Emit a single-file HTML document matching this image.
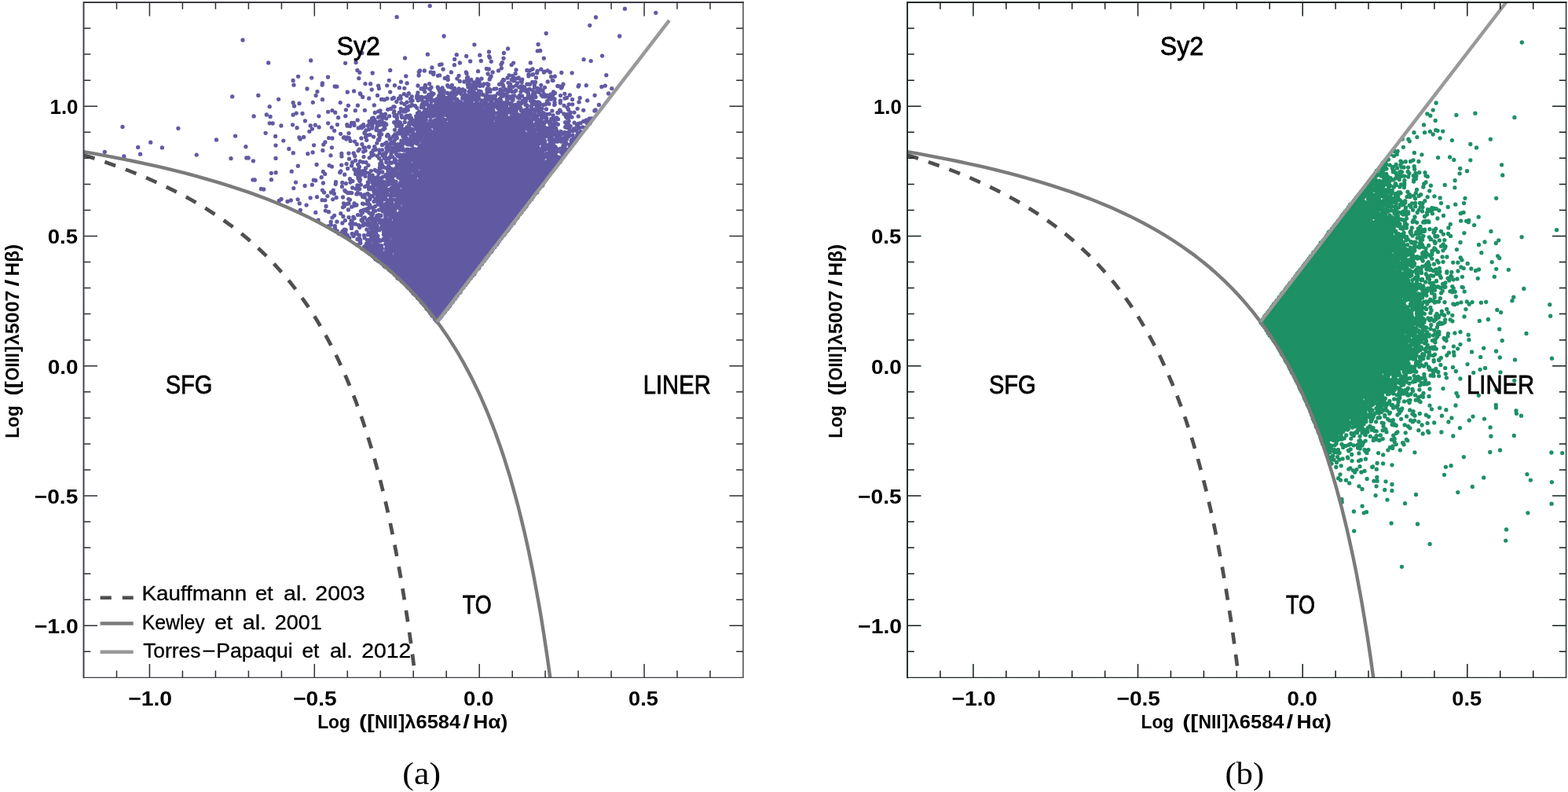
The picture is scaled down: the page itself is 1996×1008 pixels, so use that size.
<!DOCTYPE html>
<html lang="en"><head><meta charset="utf-8"><title>BPT diagnostic diagrams</title>
<style>html,body{margin:0;padding:0;background:#fff}body{width:1996px;height:1008px;overflow:hidden}svg{display:block}text{font-family:"Liberation Sans",sans-serif;fill:#000}.se{font-family:"Liberation Serif",serif}</style></head><body>
<svg width="1996" height="1008" viewBox="0 0 1996 1008">
<rect width="1996" height="1008" fill="#fff"/>
<g id="panel-a">
<clipPath id="clipa"><rect x="106.5" y="3.0" width="839.5" height="859.4"/></clipPath>
<g stroke="#615aa3" fill="none" clip-path="url(#clipa)">
<path d="M648 95.5h1M647 96.5h1M651 96.5h2M652 97.5h2M594 98.5h2M646 98.5h1M652 98.5h3M659 98.5h2M594 99.5h1M645 99.5h1M652 99.5h4M658 99.5h3M594 100.5h1M607 100.5h2M612 100.5h1M651 100.5h6M594 101.5h1M599 101.5h1M607 101.5h5M640 101.5h3M651 101.5h5M663 101.5h2M593 102.5h2M598 102.5h3M607 102.5h4M640 102.5h2M652 102.5h3M663 102.5h2M591 103.5h1M594 103.5h5M606 103.5h5M639 103.5h1M662 103.5h3M590 104.5h1M595 104.5h3M602 104.5h9M638 104.5h1M663 104.5h2M677 104.5h5M595 105.5h3M602 105.5h9M637 105.5h2M647 105.5h2M664 105.5h1M676 105.5h5M595 106.5h4M602 106.5h9M615 106.5h2M619 106.5h2M635 106.5h5M648 106.5h2M673 106.5h3M679 106.5h2M595 107.5h17M614 107.5h2M620 107.5h2M635 107.5h1M639 107.5h2M648 107.5h2M670 107.5h5M679 107.5h2M569 108.5h1M574 108.5h2M595 108.5h21M621 108.5h1M640 108.5h1M648 108.5h2M663 108.5h2M680 108.5h1M569 109.5h2M573 109.5h3M595 109.5h12M610 109.5h2M614 109.5h1M640 109.5h1M648 109.5h2M662 109.5h4M680 109.5h1M557 110.5h1M570 110.5h6M595 110.5h11M640 110.5h2M648 110.5h6M660 110.5h7M680 110.5h1M557 111.5h1M563 111.5h1M574 111.5h3M596 111.5h10M641 111.5h1M648 111.5h5M661 111.5h7M680 111.5h2M557 112.5h2M563 112.5h1M575 112.5h5M597 112.5h9M620 112.5h2M642 112.5h1M648 112.5h4M663 112.5h6M680 112.5h1M683 112.5h2M688 112.5h1M558 113.5h2M576 113.5h4M583 113.5h3M588 113.5h2M597 113.5h5M619 113.5h5M637 113.5h1M642 113.5h3M648 113.5h3M663 113.5h8M673 113.5h2M684 113.5h5M558 114.5h2M564 114.5h1M577 114.5h14M597 114.5h5M620 114.5h5M636 114.5h3M641 114.5h10M663 114.5h10M677 114.5h2M684 114.5h6M559 115.5h2M564 115.5h2M577 115.5h11M590 115.5h2M597 115.5h5M609 115.5h2M620 115.5h5M636 115.5h2M640 115.5h2M645 115.5h7M655 115.5h2M663 115.5h2M667 115.5h5M677 115.5h2M683 115.5h9M560 116.5h5M576 116.5h11M591 116.5h1M596 116.5h7M609 116.5h4M620 116.5h5M636 116.5h1M646 116.5h2M651 116.5h5M662 116.5h2M669 116.5h3M678 116.5h2M682 116.5h6M691 116.5h1M531 117.5h1M560 117.5h5M574 117.5h13M596 117.5h9M609 117.5h4M620 117.5h2M635 117.5h2M646 117.5h1M652 117.5h1M662 117.5h1M670 117.5h2M678 117.5h5M685 117.5h2M704 117.5h2M531 118.5h1M548 118.5h4M560 118.5h5M569 118.5h2M573 118.5h9M585 118.5h2M597 118.5h9M608 118.5h5M620 118.5h1M633 118.5h5M645 118.5h1M671 118.5h2M678 118.5h4M703 118.5h4M531 119.5h1M547 119.5h6M560 119.5h5M571 119.5h11M586 119.5h2M599 119.5h15M634 119.5h5M644 119.5h2M672 119.5h1M678 119.5h3M691 119.5h2M701 119.5h5M531 120.5h1M545 120.5h7M560 120.5h5M572 120.5h9M587 120.5h1M591 120.5h3M600 120.5h11M614 120.5h2M636 120.5h10M672 120.5h1M678 120.5h3M689 120.5h6M700 120.5h5M530 121.5h2M545 121.5h6M559 121.5h6M572 121.5h8M588 121.5h8M600 121.5h11M615 121.5h2M619 121.5h2M637 121.5h4M643 121.5h3M652 121.5h3M661 121.5h1M672 121.5h1M677 121.5h5M689 121.5h15M530 122.5h4M544 122.5h6M558 122.5h7M571 122.5h9M588 122.5h9M599 122.5h11M617 122.5h14M638 122.5h2M644 122.5h11M660 122.5h6M672 122.5h10M690 122.5h13M530 123.5h8M540 123.5h9M558 123.5h8M570 123.5h10M588 123.5h21M618 123.5h13M644 123.5h10M658 123.5h5M671 123.5h11M697 123.5h6M530 124.5h9M541 124.5h8M557 124.5h23M588 124.5h21M618 124.5h13M645 124.5h9M659 124.5h3M670 124.5h10M698 124.5h6M530 125.5h8M542 125.5h7M556 125.5h25M588 125.5h22M618 125.5h13M636 125.5h1M645 125.5h9M660 125.5h2M667 125.5h12M698 125.5h8M531 126.5h7M543 126.5h7M555 126.5h22M579 126.5h3M590 126.5h20M617 126.5h10M630 126.5h2M635 126.5h3M645 126.5h2M651 126.5h3M666 126.5h5M674 126.5h5M698 126.5h4M705 126.5h1M531 127.5h3M537 127.5h1M543 127.5h2M547 127.5h29M580 127.5h3M591 127.5h11M604 127.5h5M612 127.5h2M616 127.5h10M631 127.5h7M645 127.5h1M652 127.5h2M665 127.5h5M674 127.5h5M697 127.5h2M532 128.5h1M542 128.5h2M548 128.5h3M553 128.5h23M580 128.5h5M592 128.5h9M605 128.5h3M613 128.5h7M623 128.5h3M632 128.5h6M644 128.5h2M652 128.5h1M664 128.5h6M675 128.5h5M696 128.5h2M538 129.5h6M549 129.5h1M554 129.5h22M580 129.5h8M592 129.5h9M605 129.5h3M613 129.5h7M624 129.5h2M632 129.5h7M644 129.5h2M660 129.5h1M664 129.5h2M668 129.5h2M676 129.5h5M684 129.5h2M695 129.5h3M538 130.5h6M554 130.5h22M579 130.5h9M591 130.5h10M605 130.5h4M612 130.5h8M624 130.5h3M631 130.5h16M651 130.5h1M660 130.5h5M676 130.5h11M695 130.5h3M538 131.5h6M554 131.5h47M605 131.5h15M624 131.5h24M650 131.5h2M660 131.5h5M676 131.5h12M695 131.5h4M537 132.5h8M554 132.5h99M659 132.5h5M668 132.5h2M677 132.5h12M693 132.5h3M698 132.5h1M524 133.5h2M536 133.5h6M544 133.5h2M553 133.5h93M650 133.5h13M668 133.5h3M677 133.5h2M681 133.5h7M690 133.5h4M521 134.5h4M527 134.5h2M536 134.5h4M545 134.5h101M651 134.5h12M670 134.5h2M676 134.5h2M682 134.5h5M691 134.5h1M518 135.5h5M529 135.5h1M536 135.5h4M545 135.5h70M618 135.5h28M651 135.5h12M671 135.5h1M676 135.5h1M683 135.5h4M517 136.5h3M530 136.5h1M536 136.5h4M546 136.5h68M619 136.5h27M651 136.5h12M676 136.5h1M683 136.5h5M721 136.5h2M517 137.5h2M530 137.5h1M537 137.5h3M546 137.5h68M619 137.5h10M633 137.5h14M650 137.5h14M676 137.5h1M682 137.5h9M722 137.5h1M510 138.5h1M515 138.5h4M540 138.5h1M546 138.5h69M618 138.5h10M633 138.5h26M662 138.5h2M670 138.5h1M675 138.5h3M681 138.5h10M722 138.5h2M510 139.5h10M540 139.5h88M635 139.5h23M663 139.5h1M668 139.5h4M674 139.5h16M723 139.5h1M510 140.5h10M540 140.5h88M635 140.5h23M663 140.5h2M667 140.5h10M679 140.5h11M501 141.5h1M512 141.5h6M533 141.5h1M540 141.5h42M584 141.5h45M635 141.5h23M663 141.5h13M680 141.5h10M501 142.5h1M508 142.5h1M532 142.5h3M539 142.5h42M585 142.5h45M634 142.5h24M664 142.5h12M680 142.5h2M684 142.5h7M725 142.5h1M501 143.5h1M507 143.5h2M531 143.5h50M585 143.5h73M664 143.5h12M679 143.5h2M685 143.5h8M724 143.5h2M501 144.5h1M531 144.5h51M585 144.5h45M632 144.5h14M651 144.5h7M664 144.5h17M685 144.5h9M717 144.5h2M723 144.5h3M485 145.5h1M489 145.5h2M502 145.5h1M531 145.5h98M633 145.5h12M651 145.5h9M663 145.5h18M684 145.5h16M718 145.5h8M484 146.5h6M502 146.5h4M521 146.5h1M531 146.5h98M634 146.5h11M651 146.5h45M703 146.5h2M719 146.5h8M484 147.5h6M502 147.5h4M516 147.5h7M530 147.5h35M569 147.5h60M634 147.5h11M650 147.5h35M688 147.5h8M704 147.5h1M720 147.5h7M482 148.5h8M502 148.5h4M516 148.5h7M529 148.5h15M547 148.5h4M554 148.5h10M570 148.5h60M633 148.5h13M649 148.5h24M677 148.5h8M689 148.5h7M720 148.5h8M481 149.5h2M485 149.5h6M504 149.5h2M515 149.5h9M529 149.5h14M548 149.5h1M555 149.5h9M570 149.5h103M677 149.5h7M689 149.5h7M703 149.5h1M708 149.5h1M720 149.5h5M727 149.5h2M473 150.5h3M486 150.5h2M491 150.5h2M505 150.5h1M515 150.5h2M520 150.5h5M529 150.5h14M555 150.5h9M570 150.5h103M677 150.5h7M689 150.5h2M695 150.5h1M702 150.5h2M707 150.5h3M721 150.5h3M750 150.5h1M473 151.5h4M486 151.5h1M505 151.5h1M515 151.5h1M521 151.5h4M529 151.5h14M554 151.5h11M569 151.5h105M677 151.5h2M681 151.5h4M688 151.5h2M695 151.5h1M701 151.5h10M723 151.5h1M749 151.5h5M473 152.5h5M486 152.5h1M505 152.5h1M522 152.5h4M528 152.5h15M547 152.5h1M553 152.5h13M568 152.5h60M631 152.5h47M682 152.5h7M695 152.5h1M701 152.5h7M746 152.5h4M472 153.5h6M486 153.5h1M505 153.5h1M522 153.5h21M547 153.5h2M551 153.5h17M571 153.5h56M632 153.5h45M682 153.5h7M694 153.5h3M701 153.5h6M724 153.5h1M745 153.5h5M470 154.5h9M482 154.5h5M504 154.5h3M522 154.5h21M547 154.5h20M571 154.5h56M632 154.5h45M683 154.5h7M693 154.5h5M700 154.5h2M705 154.5h2M723 154.5h2M742 154.5h8M470 155.5h18M501 155.5h9M521 155.5h22M547 155.5h20M571 155.5h56M631 155.5h46M683 155.5h18M705 155.5h2M719 155.5h5M746 155.5h4M470 156.5h6M478 156.5h13M502 156.5h8M520 156.5h23M546 156.5h22M570 156.5h106M682 156.5h12M698 156.5h3M705 156.5h4M719 156.5h5M731 156.5h1M738 156.5h2M747 156.5h4M470 157.5h5M479 157.5h13M503 157.5h7M520 157.5h156M681 157.5h12M699 157.5h3M704 157.5h6M720 157.5h4M733 157.5h4M469 158.5h5M479 158.5h13M503 158.5h8M520 158.5h2M526 158.5h151M680 158.5h12M699 158.5h8M709 158.5h2M721 158.5h3M734 158.5h2M468 159.5h2M472 159.5h2M480 159.5h4M488 159.5h3M504 159.5h8M520 159.5h1M527 159.5h165M700 159.5h6M721 159.5h4M734 159.5h2M467 160.5h2M473 160.5h1M480 160.5h2M488 160.5h2M504 160.5h8M519 160.5h2M528 160.5h152M682 160.5h11M700 160.5h6M720 160.5h7M734 160.5h2M473 161.5h2M480 161.5h1M489 161.5h1M508 161.5h4M518 161.5h4M528 161.5h20M551 161.5h128M683 161.5h11M700 161.5h7M719 161.5h8M735 161.5h2M741 161.5h1M473 162.5h2M479 162.5h2M489 162.5h1M509 162.5h3M517 162.5h5M528 162.5h20M552 162.5h127M683 162.5h12M698 162.5h10M720 162.5h6M736 162.5h3M479 163.5h1M488 163.5h2M509 163.5h4M516 163.5h8M528 163.5h19M553 163.5h127M683 163.5h19M706 163.5h2M723 163.5h3M736 163.5h2M478 164.5h2M487 164.5h2M509 164.5h19M530 164.5h17M553 164.5h115M670 164.5h32M707 164.5h1M724 164.5h1M729 164.5h3M478 165.5h3M508 165.5h19M531 165.5h17M553 165.5h114M672 165.5h30M707 165.5h2M729 165.5h5M481 166.5h4M508 166.5h18M531 166.5h18M553 166.5h114M672 166.5h10M685 166.5h18M706 166.5h3M725 166.5h1M728 166.5h6M482 167.5h2M507 167.5h14M523 167.5h3M531 167.5h136M673 167.5h8M685 167.5h25M712 167.5h3M724 167.5h2M734 167.5h1M739 167.5h1M483 168.5h1M506 168.5h14M524 168.5h2M531 168.5h137M673 168.5h8M685 168.5h40M735 168.5h1M738 168.5h1M483 169.5h2M505 169.5h15M525 169.5h2M530 169.5h139M672 169.5h10M684 169.5h41M735 169.5h3M482 170.5h4M502 170.5h4M511 170.5h9M525 170.5h200M735 170.5h2M482 171.5h4M493 171.5h2M502 171.5h3M512 171.5h6M524 171.5h191M718 171.5h7M734 171.5h2M483 172.5h1M492 172.5h3M501 172.5h4M512 172.5h5M523 172.5h181M707 172.5h7M719 172.5h6M728 172.5h2M734 172.5h1M483 173.5h1M492 173.5h4M500 173.5h5M512 173.5h5M522 173.5h173M697 173.5h6M708 173.5h6M719 173.5h6M729 173.5h1M734 173.5h1M483 174.5h1M495 174.5h1M503 174.5h3M513 174.5h4M522 174.5h15M540 174.5h154M698 174.5h5M708 174.5h7M718 174.5h6M729 174.5h1M733 174.5h2M482 175.5h2M496 175.5h2M504 175.5h2M513 175.5h5M522 175.5h15M541 175.5h152M698 175.5h5M707 175.5h16M729 175.5h6M482 176.5h2M496 176.5h2M504 176.5h1M514 176.5h5M522 176.5h15M541 176.5h152M699 176.5h5M706 176.5h12M721 176.5h2M729 176.5h6M481 177.5h3M496 177.5h2M503 177.5h1M514 177.5h23M541 177.5h152M699 177.5h18M728 177.5h6M481 178.5h2M497 178.5h1M502 178.5h1M513 178.5h25M540 178.5h154M699 178.5h18M727 178.5h7M498 179.5h1M501 179.5h2M510 179.5h184M699 179.5h19M727 179.5h7M498 180.5h4M510 180.5h23M537 180.5h157M700 180.5h11M713 180.5h2M717 180.5h2M727 180.5h6M491 181.5h2M497 181.5h5M510 181.5h22M537 181.5h157M700 181.5h6M718 181.5h3M727 181.5h5M490 182.5h3M497 182.5h6M509 182.5h6M517 182.5h10M529 182.5h3M537 182.5h157M699 182.5h6M718 182.5h4M727 182.5h4M491 183.5h2M502 183.5h12M518 183.5h8M531 183.5h2M536 183.5h159M698 183.5h7M718 183.5h3M726 183.5h4M492 184.5h2M503 184.5h5M511 184.5h2M523 184.5h3M533 184.5h153M689 184.5h16M717 184.5h3M724 184.5h5M492 185.5h2M503 185.5h5M512 185.5h1M524 185.5h1M533 185.5h152M690 185.5h16M716 185.5h4M725 185.5h2M476 186.5h1M492 186.5h5M502 186.5h6M512 186.5h1M533 186.5h152M690 186.5h17M716 186.5h4M725 186.5h1M476 187.5h2M491 187.5h18M511 187.5h2M533 187.5h152M690 187.5h18M716 187.5h4M725 187.5h1M476 188.5h2M491 188.5h22M525 188.5h1M533 188.5h152M689 188.5h20M713 188.5h7M725 188.5h1M476 189.5h2M492 189.5h21M518 189.5h1M524 189.5h5M532 189.5h153M689 189.5h20M713 189.5h8M723 189.5h3M475 190.5h4M482 190.5h5M492 190.5h193M689 190.5h6M698 190.5h11M713 190.5h11M474 191.5h2M482 191.5h2M492 191.5h2M497 191.5h13M514 191.5h172M688 191.5h5M699 191.5h10M713 191.5h9M474 192.5h1M491 192.5h2M498 192.5h8M518 192.5h174M699 192.5h10M713 192.5h8M473 193.5h1M491 193.5h2M498 193.5h7M518 193.5h173M699 193.5h10M713 193.5h7M472 194.5h2M483 194.5h1M490 194.5h2M497 194.5h2M503 194.5h2M518 194.5h173M695 194.5h1M698 194.5h10M714 194.5h6M473 195.5h2M482 195.5h2M487 195.5h5M497 195.5h1M503 195.5h2M517 195.5h175M694 195.5h14M715 195.5h5M473 196.5h3M485 196.5h4M504 196.5h2M513 196.5h194M715 196.5h5M472 197.5h3M486 197.5h2M505 197.5h202M715 197.5h4M472 198.5h2M480 198.5h1M487 198.5h1M506 198.5h202M716 198.5h3M471 199.5h1M480 199.5h2M496 199.5h4M507 199.5h204M716 199.5h2M470 200.5h1M481 200.5h2M488 200.5h4M495 200.5h2M500 200.5h1M508 200.5h186M696 200.5h17M715 200.5h1M482 201.5h2M489 201.5h7M501 201.5h1M509 201.5h183M697 201.5h19M483 202.5h1M490 202.5h4M502 202.5h1M509 202.5h182M697 202.5h18M484 203.5h1M491 203.5h1M502 203.5h2M509 203.5h182M697 203.5h17M484 204.5h2M491 204.5h1M502 204.5h3M508 204.5h184M696 204.5h18M458 205.5h2M485 205.5h1M491 205.5h1M501 205.5h4M509 205.5h14M526 205.5h167M695 205.5h19M461 206.5h5M485 206.5h1M491 206.5h1M496 206.5h4M502 206.5h3M509 206.5h14M527 206.5h186M466 207.5h1M484 207.5h2M496 207.5h3M503 207.5h3M508 207.5h15M527 207.5h185M483 208.5h4M504 208.5h19M526 208.5h164M693 208.5h18M455 209.5h1M468 209.5h1M483 209.5h4M505 209.5h184M693 209.5h17M455 210.5h2M468 210.5h1M483 210.5h5M494 210.5h1M505 210.5h184M693 210.5h15M456 211.5h2M483 211.5h5M494 211.5h2M505 211.5h185M692 211.5h15M456 212.5h2M483 212.5h6M494 212.5h2M504 212.5h203M456 213.5h1M465 213.5h2M483 213.5h3M488 213.5h2M493 213.5h4M503 213.5h204M456 214.5h1M465 214.5h1M483 214.5h2M492 214.5h7M503 214.5h29M534 214.5h172M450 215.5h2M455 215.5h2M464 215.5h1M483 215.5h1M493 215.5h3M498 215.5h33M535 215.5h169M451 216.5h7M463 216.5h2M476 216.5h3M483 216.5h1M493 216.5h2M499 216.5h7M508 216.5h23M535 216.5h168M452 217.5h13M472 217.5h1M478 217.5h2M482 217.5h2M493 217.5h2M499 217.5h6M509 217.5h23M535 217.5h168M452 218.5h14M471 218.5h1M479 218.5h8M493 218.5h2M498 218.5h7M509 218.5h194M452 219.5h15M470 219.5h1M481 219.5h3M493 219.5h13M509 219.5h14M527 219.5h174M452 220.5h13M469 220.5h1M481 220.5h2M493 220.5h29M527 220.5h173M452 221.5h13M482 221.5h1M492 221.5h30M527 221.5h173M454 222.5h6M462 222.5h3M470 222.5h1M490 222.5h33M526 222.5h174M455 223.5h4M464 223.5h2M470 223.5h5M489 223.5h210M455 224.5h4M465 224.5h1M470 224.5h6M487 224.5h15M505 224.5h25M533 224.5h165M455 225.5h3M470 225.5h7M480 225.5h2M485 225.5h3M491 225.5h10M506 225.5h24M534 225.5h164M455 226.5h3M470 226.5h16M492 226.5h8M506 226.5h23M534 226.5h162M456 227.5h2M470 227.5h15M493 227.5h7M509 227.5h13M525 227.5h4M534 227.5h161M456 228.5h3M470 228.5h14M493 228.5h7M510 228.5h12M526 228.5h4M533 228.5h161M457 229.5h2M472 229.5h12M493 229.5h8M510 229.5h12M526 229.5h168M457 230.5h2M473 230.5h12M493 230.5h11M510 230.5h11M525 230.5h168M468 231.5h1M473 231.5h28M503 231.5h2M509 231.5h11M524 231.5h168M468 232.5h1M473 232.5h27M504 232.5h1M509 232.5h11M524 232.5h168M468 233.5h2M474 233.5h26M504 233.5h1M508 233.5h13M524 233.5h168M468 234.5h1M474 234.5h22M499 234.5h2M504 234.5h188M454 235.5h2M458 235.5h2M467 235.5h2M474 235.5h20M500 235.5h192M454 236.5h4M466 236.5h3M474 236.5h4M480 236.5h12M500 236.5h191M454 237.5h3M464 237.5h6M472 237.5h5M481 237.5h10M500 237.5h9M511 237.5h178M454 238.5h3M468 238.5h9M482 238.5h9M499 238.5h9M512 238.5h176M453 239.5h5M469 239.5h8M483 239.5h8M498 239.5h10M512 239.5h176M453 240.5h5M469 240.5h9M483 240.5h9M497 240.5h11M512 240.5h175M454 241.5h4M472 241.5h7M482 241.5h26M512 241.5h173M455 242.5h1M474 242.5h210M455 243.5h1M475 243.5h209M455 244.5h1M475 244.5h7M484 244.5h10M497 244.5h187M454 245.5h2M476 245.5h5M485 245.5h8M497 245.5h187M453 246.5h2M457 246.5h2M467 246.5h2M476 246.5h5M485 246.5h8M497 246.5h186M453 247.5h1M459 247.5h1M464 247.5h1M468 247.5h2M475 247.5h7M485 247.5h9M496 247.5h186M460 248.5h1M463 248.5h2M470 248.5h1M474 248.5h2M479 248.5h202M461 249.5h4M471 249.5h4M479 249.5h12M496 249.5h4M505 249.5h175M461 250.5h4M471 250.5h3M479 250.5h12M497 250.5h2M506 250.5h174M463 251.5h2M470 251.5h2M479 251.5h12M497 251.5h1M506 251.5h173M470 252.5h2M478 252.5h14M496 252.5h2M505 252.5h173M470 253.5h2M477 253.5h16M496 253.5h3M501 253.5h177M468 254.5h3M477 254.5h10M492 254.5h185M467 255.5h3M476 255.5h10M493 255.5h7M503 255.5h172M467 256.5h2M476 256.5h1M479 256.5h7M493 256.5h6M504 256.5h171M467 257.5h2M480 257.5h6M492 257.5h7M504 257.5h170M467 258.5h2M481 258.5h5M491 258.5h8M504 258.5h169M466 259.5h4M481 259.5h4M491 259.5h8M503 259.5h169M469 260.5h2M480 260.5h5M490 260.5h10M503 260.5h6M512 260.5h160M470 261.5h1M479 261.5h1M484 261.5h2M489 261.5h20M513 261.5h158M470 262.5h1M477 262.5h2M485 262.5h24M513 262.5h158M469 263.5h3M485 263.5h24M513 263.5h157M468 264.5h7M485 264.5h19M506 264.5h163M467 265.5h3M474 265.5h1M485 265.5h18M508 265.5h160M463 266.5h6M484 266.5h19M509 266.5h158M460 267.5h9M475 267.5h3M481 267.5h22M509 267.5h157M459 268.5h3M466 268.5h3M475 268.5h3M486 268.5h17M509 268.5h156M459 269.5h3M468 269.5h1M475 269.5h1M487 269.5h16M509 269.5h156M460 270.5h2M469 270.5h1M474 270.5h1M489 270.5h15M508 270.5h156M460 271.5h1M470 271.5h5M489 271.5h175M471 272.5h4M490 272.5h173M455 273.5h5M472 273.5h3M480 273.5h5M490 273.5h171M472 274.5h2M479 274.5h6M490 274.5h3M496 274.5h164M472 275.5h2M479 275.5h5M490 275.5h2M496 275.5h164M464 276.5h1M472 276.5h2M478 276.5h5M490 276.5h2M496 276.5h164M463 277.5h1M470 277.5h4M477 277.5h6M490 277.5h3M496 277.5h3M501 277.5h158M461 278.5h2M469 278.5h14M490 278.5h8M502 278.5h156M460 279.5h3M468 279.5h2M473 279.5h24M502 279.5h155M459 280.5h3M467 280.5h2M474 280.5h23M501 280.5h155M460 281.5h2M468 281.5h1M474 281.5h6M482 281.5h15M501 281.5h155M461 282.5h2M468 282.5h1M474 282.5h5M483 282.5h15M500 282.5h155M462 283.5h1M467 283.5h3M475 283.5h4M483 283.5h172M462 284.5h2M466 284.5h5M476 284.5h3M484 284.5h170M462 285.5h10M476 285.5h5M485 285.5h168M461 286.5h3M467 286.5h6M475 286.5h5M486 286.5h166M425 287.5h2M470 287.5h10M486 287.5h165M425 288.5h2M471 288.5h10M485 288.5h165M425 289.5h2M471 289.5h10M485 289.5h165M425 290.5h2M470 290.5h3M476 290.5h5M485 290.5h164M426 291.5h1M476 291.5h6M484 291.5h164M437 292.5h4M466 292.5h2M476 292.5h8M488 292.5h159M428 293.5h1M436 293.5h5M475 293.5h6M488 293.5h159M429 294.5h1M435 294.5h5M472 294.5h8M488 294.5h158M430 295.5h1M434 295.5h1M439 295.5h1M453 295.5h2M469 295.5h10M488 295.5h157M430 296.5h4M439 296.5h2M453 296.5h2M469 296.5h10M488 296.5h156M431 297.5h2M439 297.5h2M448 297.5h7M468 297.5h12M488 297.5h155M438 298.5h4M448 298.5h4M454 298.5h2M468 298.5h12M488 298.5h155M438 299.5h1M441 299.5h2M449 299.5h2M456 299.5h2M463 299.5h1M470 299.5h11M488 299.5h154M449 300.5h2M457 300.5h1M463 300.5h1M471 300.5h10M489 300.5h152M457 301.5h1M463 301.5h1M472 301.5h8M489 301.5h8M499 301.5h141M444 302.5h1M457 302.5h1M463 302.5h2M472 302.5h8M489 302.5h7M500 302.5h140M456 303.5h2M464 303.5h1M472 303.5h8M488 303.5h8M500 303.5h139M455 304.5h4M470 304.5h11M487 304.5h9M500 304.5h138M455 305.5h4M467 305.5h17M486 305.5h10M499 305.5h138M457 306.5h2M467 306.5h18M490 306.5h146M458 307.5h1M467 307.5h17M491 307.5h145M458 308.5h1M467 308.5h6M475 308.5h7M491 308.5h144M458 309.5h1M466 309.5h6M476 309.5h6M491 309.5h143M466 310.5h5M476 310.5h6M490 310.5h144M465 311.5h5M475 311.5h8M491 311.5h142M464 312.5h6M474 312.5h12M492 312.5h139M463 313.5h8M473 313.5h13M492 313.5h139M463 314.5h23M492 314.5h138M462 315.5h25M491 315.5h138M461 316.5h26M491 316.5h138M464 317.5h3M469 317.5h17M491 317.5h137M470 318.5h16M491 318.5h136M471 319.5h15M490 319.5h137M471 320.5h16M490 320.5h136M471 321.5h29M502 321.5h123M470 322.5h29M503 322.5h121M470 323.5h29M503 323.5h120M472 324.5h27M502 324.5h121M473 325.5h149M474 326.5h147M475 327.5h145M476 328.5h144M477 329.5h142M478 330.5h140M480 331.5h138M481 332.5h136M482 333.5h134M485 334.5h130M486 335.5h128M487 336.5h127M488 337.5h125M488 338.5h124M489 339.5h122M491 340.5h120M494 341.5h116M494 342.5h115M494 343.5h114M495 344.5h112M497 345.5h109M498 346.5h108M500 347.5h105M501 348.5h104M501 349.5h103M502 350.5h101M503 351.5h99M504 352.5h97M505 353.5h96M506 354.5h94M507 355.5h91M510 356.5h87M510 357.5h87M511 358.5h85M513 359.5h83M513 360.5h82M514 361.5h80M515 362.5h79M516 363.5h77M517 364.5h75M518 365.5h73M519 366.5h71M520 367.5h70M521 368.5h68M522 369.5h66M523 370.5h64M524 371.5h63M524 372.5h62M525 373.5h60M526 374.5h58M528 375.5h55M529 376.5h54M530 377.5h52M530 378.5h51M531 379.5h50M532 380.5h48M533 381.5h46M534 382.5h44M535 383.5h43M535 384.5h42M536 385.5h40M538 386.5h37M538 387.5h36M539 388.5h34M540 389.5h33M541 390.5h31M541 391.5h30M542 392.5h29M543 393.5h27M544 394.5h25M545 395.5h23M546 396.5h21M546 397.5h21M547 398.5h19M548 399.5h17M549 400.5h15M549 401.5h14M550 402.5h13M551 403.5h11M552 404.5h9M552 405.5h8M553 406.5h7M554 407.5h5M555 408.5h3M556 409.5h2" stroke-width="1.3"/>
<path d="M547.2 7.4h0m248.2 3.8h0m39.4 5.1h0m-329.7 5.4h0m253.4 .3h0m-7.7 10.3h0m-55.6 10.1h0m-386.2 8.6h0m256.1-5h0m223.6 0h0m-184.8 10.8h0m81.2-.3h0m-38.5 5.4h0m-185.7 5.7h0m161.5-1.7h0m19 1.6h0m42.8-2.7h0m3.5-.3h0m-172.2 9.4h0m28.9-4.7h0m36.9 .5h0m12.4 1.8h0m17.1-1.3h0m11.8 1.4h0m.8 1.7h0m17.6 .9h0m51.3 0h0m74.3-3.1h0m-424.9 8.8h0m54-2.9h0m43.9 3.3h0m13.5-.8h0m125.6-4.1h0m6.7 4.6h0m13.3-2h0m13.6-.6h0m13 .9h0m14 1.3h0m14.3 .5h0m21.7-.2h0m67.8-4.2h0m9.1 1.9h0m-202.3 8.4h0m9.8-3.6h0m2.4-.6h0m16.3 .9h0m59.6-.8h0m.4 4.9h0m12.8-4.2h0m-196.3 6.8h0m2.9 2.9h0m16.4 .7h0m22.5-3.6h0m36.6 2.3h0m1.2-1.7h0m5.8 0h0m7.9 1.9h0m3.8 .6h0m12.1-4.3h0m10.3 3.7h0m18.9-.1h0m15.3-1.1h0m10.8-3.2h0m2.9 .5h0m4.8 4h0m7.4-2.1h0m22.5-1.1h0m13.8 .6h0m3.4 .5h0m2.8-1.3h0m1.1-.8h0m5.4 5h0m.5-2.4h0m4.8-2.2h0m3.6 3.9h0m.7-.9h0m4-1.4h0m3.2 2.2h0m14.5 .5h0m13.3 .3h0m-348.5 4.5h0m37.9 .8h0m99.3-1.2h0m16.3-.9h0m18.6-1.4h0m5.7 1.7h0m2.2-.4h0m10.2 2.8h0m.1-1h0m14.2-1.4h0m10-2.6h0m1.4 4.6h0m25.6-4.3h0m4 3.2h0m23-1.4h0m4.2 .8h0m3.8-2.9h0m4.1 5.2h0m12.6-4.3h0m.1 2.3h0m4.9-1.8h0m.7-.4h0m3.9 4.1h0m19.2-1.2h0m4.7-.4h0m65.5-1.5h0m-398.7 6.8h0m23.6-3.4h0m60.1 .6h0m38.5 2.6h0m15.1 1.9h0m55.8-4.6h0m4 1.8h0m11.7-1.3h0m3.4 3.3h0m5.6 .6h0m3.5-4.7h0m0 2.9h0m4.9-.1h0m.5-.6h0m3.6 3.4h0m4-2.3h0m.4-1.9h0m2.4 3.8h0m2.8-4.4h0m10.2 1h0m.8-2h0m14.9 5.4h0m1.7-3.1h0m1 .7h0m4.4-3h0m5.2 2.3h0m2.4 1.4h0m1.2-3.5h0m.1 3.2h0m4.2-2.9h0m3.9 3.6h0m1.2 1.4h0m.6-3.5h0m12.9 3.4h0m3.8 0h0m15.7-.5h0m6-1.8h0m.8 .4h0m-330 5.6h0m36.2-.1h0m.2-2.3h0m15.8 4.2h0m2.6 .2h0m36.2-3.6h0m6.6 .1h0m10 2.4h0m11.1-.3h0m9.7-.1h0m15.7-2.8h0m13.9 3.1h0m9.4-.6h0m5.2-1.8h0m10.7 4.3h0m12.4-2.2h0m1 1.6h0m4.6-1.9h0m20-1.1h0m.6 3.4h0m1.2-5h0m.7 4.5h0m3.8-1.2h0m0-1.4h0m1.8-2h0m2 5.2h0m.4-1.2h0m5-.2h0m1.4-1h0m2.5 .7h0m1.2-2.2h0m4.4-.3h0m.9 1.4h0m.6-.3h0m13.7-.4h0m4.6 1h0m.1-.5h0m.6 2.4h0m6.2-4.9h0m1.2 5.2h0m1.3-3.7h0m3.4 3.8h0m3.9-1.8h0m1.8-3h0m2.2 5.2h0m2-1.2h0m2.6 .1h0m5.5-2.7h0m2.5 0h0m1.1 .1h0m5.8 .9h0m8.5 .1h0m21 1.2h0m2.6 .3h0m3 .9h0m1.6-3.5h0m19.1 2.9h0m.8-1.6h0m9.4 .2h0m19.6 1.7h0m4.5-1.3h0m-379.4 3.9h0m12.9 3.6h0m46.7-.7h0m22.6-1.8h0m9.2-1.5h0m26-.9h0m6.4 .6h0m21.3 .7h0m3.5-1h0m.2 2.3h0m1 2.5h0m1-5.2h0m4.8 1.5h0m.8 .5h0m1.6-2.4h0m9.3 1.6h0m1 2.1h0m2 2h0m1.8-5.1h0m2 3.6h0m9.6-3.8h0m2 1h0m2-.3h0m2.5 3.6h0m2.9-2.9h0m3.1 1.8h0m1.7-1h0m.3 .1h0m2.1 2h0m.1-.7h0m5.5 1.4h0m1.6-2.9h0m1.5 2.1h0m.6-1.1h0m4.9-2.2h0m4.2 3.3h0m2.5 .9h0m7.8-2.3h0m.3-1.6h0m.8 4.2h0m1.3-4h0m1.5 3.6h0m.3-2.1h0m5-1.3h0m2.5-.4h0m5.1 3h0m.3-2h0m4.1 1.5h0m2.5-1.3h0m3.1 2.7h0m2-3.6h0m1.3 .9h0m1.6 2.6h0m3.3 0h0m1.7-1.4h0m6.2 1.6h0m1.3-3.2h0m1.1 .5h0m2.2-.7h0m0-2.1h0m.3 3.8h0m1-.7h0m1.7 2.3h0m.3-2.5h0m1.2 .7h0m2.1-1.6h0m3.5 1.5h0m3-3.1h0m3.5 .8h0m4 .7h0m2.9 2.4h0m2.5-4.3h0m21 .8h0m64.3 .5h0m-483.1 10.3h0m33.1-1.5h0m73.3 .2h0m40.2-4.4h0m16.1 1.6h0m.4 1h0m21.7 1.6h0m16.2-4.3h0m13.1 5.3h0m4.6-2.7h0m3.5 2.1h0m2.3-2.8h0m.2-.2h0m3.8 4.2h0m6.5-.5h0m.4-1h0m.8-3.7h0m.6 4.8h0m13.2-2h0m3.5-2.4h0m.9 2.9h0m1.9-1.8h0m6.6 2.9h0m1.4-4h0m4.1 .7h0m.5 1.7h0m4.9-2.1h0m3.3 2.9h0m.2-1.4h0m1.9-2.1h0m.8 1.1h0m1.4-1.7h0m3.6 1.5h0m.2 .7h0m4.7-1.6h0m1.3 1.3h0m2.1 3.2h0m3.1-2h0m3.1 1.3h0m3.9-3.5h0m3.4-1.2h0m.1 1.5h0m1 .2h0m.6-.8h0m4.3 1.1h0m1.4 2.8h0m1.4-2.6h0m3.8 1.5h0m3 2h0m2-4.9h0m.6 4.3h0m4 .6h0m3.7 0h0m2-.5h0m3.3-3.3h0m2.4 .8h0m2 1.9h0m.2-1.8h0m.2 1.7h0m1.4 .8h0m1.4-2h0m3.5-.7h0m0 2.1h0m4.1 1.1h0m4.1-.8h0m1.7-.2h0m6.6-.2h0m3.3 .5h0m7.9-1h0m0-2.5h0m5.5 2.4h0m.1 2h0m.6-4.2h0m2.1 2.6h0m1.3-4.2h0m4 .1h0m3 3.8h0m1.8 1.7h0m1.2-.7h0m.3-2.4h0m1.7 3.2h0m.8-1.5h0m1.6-.1h0m4.5-1.2h0m3 .4h0m.5-3.5h0m1.9 1.5h0m7.1 3.1h0m5.3-2.3h0m6.5 1.7h0m31.8 .3h0m17.5-2.3h0m-420 7.3h0m55.9 .4h0m51.2-3.2h0m8 1.7h0m15.8 1.2h0m1.9 .2h0m2.2 .3h0m3.3-1.6h0m6.4 .4h0m2-1.3h0m6.1 1.1h0m2.8-.2h0m12.2 .3h0m2.7 2.3h0m5.6-3.2h0m1.5 3.1h0m.5-.2h0m2.4-1.5h0m1.7-2.7h0m.2 2.6h0m4.3-2.2h0m2.8-.7h0m.4 3.6h0m1.8-.3h0m2.5-3.2h0m.3 3.9h0m3.6 .5h0m3.6-1.6h0m2.3-2.4h0m.9 .4h0m8 .6h0m3.3-.6h0m4.4 3.7h0m2.5-2.6h0m1.1-1.8h0m.3 1.3h0m1.6 2.7h0m1.3-.6h0m6.7-1.5h0m.3-.7h0m1 .5h0m2.4 3h0m5.5-2.7h0m.7-1.8h0m1.8 5.4h0m4.6-2.1h0m2.5-2.1h0m2 1.3h0m3.5 1.8h0m4.5-.9h0m2.1-3.5h0m.5 .2h0m.7 3.4h0m1.8-.6h0m3.1 .7h0m1.9-3h0m2.6 1.8h0m1.9 1.4h0m4.3-1.7h0m.6 2.2h0m.5-.3h0m7.6-3.3h0m.3 4h0m.6-3h0m.6-1.3h0m1.5 1.3h0m2.2-.9h0m1.9 2.4h0m.9-1.6h0m0 2.1h0m.1-4h0m6 .8h0m2 1h0m4.1 3.5h0m0 .4h0m2.4-3.1h0m1.8 2.1h0m.5-2.5h0m2.5-.7h0m2.4-1.4h0m.5 5h0m2 .6h0m.6-4.7h0m1.8 4.4h0m.7-5.5h0m1.4 .3h0m15.1 5.1h0m1.4-4.8h0m3 2.5h0m1.8-1.7h0m2.8 1.3h0m7.4 2.3h0m5.6-2.9h0m2.4-.8h0m7.2 2.2h0m9.6-1.9h0m9.5 3.2h0m-374.5 2.8h0m7.8 1h0m17.3-1.4h0m34.9 .3h0m10.2 3.7h0m12-.1h0m20.9-.3h0m28.5-4.4h0m6 1.3h0m4.1 1.8h0m3.1-2.4h0m5.1 4.6h0m.2-5.7h0m1.5 4.5h0m3.7 1.1h0m8.4-1.1h0m1.2-3.3h0m2.4-.5h0m.1 3.3h0m.4-.3h0m2.3-1.9h0m1.9 3.5h0m1-.2h0m2.8 .2h0m0-4.9h0m3.4 5.3h0m1.7-1.2h0m.7-3.7h0m.8 1.1h0m19.2-1h0m3.4 2.5h0m1.9-1.8h0m4.5-1.3h0m2.7 .9h0m1.2 1.5h0m12.1 .4h0m3.4 1h0m2.3-3.3h0m.8-.1h0m3.8 2.2h0m2 2.6h0m3.8-4.7h0m.8 5h0m.1-3.2h0m0 2.5h0m1.2-3h0m1.8 1.5h0m2.2 .5h0m2-3.9h0m.2 1.5h0m1-.8h0m3.4 2.2h0m1.8-1.2h0m1.9-1.4h0m8.1 1.4h0m5.2-.5h0m.5 1h0m2.7 1.4h0m1.4-1.8h0m.6 2.4h0m.4 .5h0m3.9-.6h0m.5 1.6h0m3.6-4.6h0m.6 2h0m3.2-.9h0m.5-1.1h0m4.7 2.9h0m0-3.8h0m1.7 4.5h0m.6 .7h0m5.9-2.7h0m1.1 1.1h0m2-.7h0m1.1-1.5h0m1 2.3h0m1.8-3.2h0m1.5 .1h0m.9 4.3h0m.5-3.1h0m4.7 2.2h0m2.3-.6h0m2.3-3.7h0m2.5 3h0m6.8 1.4h0m.3-3.4h0m.2 2.9h0m7.1-2.1h0m4.7 3.3h0m6.2-1.5h0m4.5 0h0m8.3-2.9h0m25.4 3.6h0m-419.2 2.2h0m31.4-.7h0m48.3 5.6h0m17.5-.8h0m11.9 .9h0m12.1-.4h0m29.3-1h0m3.6-.8h0m3.5-2.6h0m1.3 .1h0m8.1 2.3h0m1 1.7h0m4.2-.6h0m2.9-3h0m1 3.6h0m2-4.9h0m9.5 2.2h0m5.7-.9h0m.6 .2h0m2.1 .4h0m4.2 2.6h0m2.2 0h0m1.1-3.4h0m35.7 3.7h0m2.5 .7h0m27.6-2.1h0m1.3-2.2h0m.3 3h0m2.4 1.2h0m2-.9h0m2-2.8h0m6.9 2.7h0m.4 1h0m1.6-5.2h0m.8 .4h0m3.6 1.8h0m.4 .7h0m9.4-2.9h0m.9 .2h0m2.4 2.8h0m.3 1.1h0m2.6-1.4h0m1.6-1h0m7.7-.6h0m.5 1h0m2.4-1.5h0m.4 1.9h0m.6 .4h0m0 1h0m5.8 .7h0m2-1h0m4.7 .2h0m1-3.9h0m2.5 4.5h0m2.2 1.2h0m1.5-3.2h0m2.9-1.9h0m4.4 2.5h0m5.4 .6h0m17.2 1.3h0m9.5-3.4h0m1.4 2.7h0m11.6-1.2h0m7.6 2h0m15.4-.3h0m-418.8 6h0m33.8 .2h0m4.1-2.1h0m7.8 .4h0m32.6-2.2h0m9.1 .9h0m50.6 .2h0m4.4-1.6h0m2.3-.8h0m1.5 4.5h0m5-.3h0m10.9-1.6h0m.4-2h0m3.3 5h0m3.3-3.5h0m5.2-1.2h0m2.5 0h0m5.8 4.9h0m9.5-2.7h0m1.8 1.4h0m.3-3.6h0m3.4 2.4h0m3.1-2.2h0m24 4.1h0m3.5 .1h0m11.1-2.4h0m2 .5h0m3.1 1.7h0m.5 .8h0m1.3-4.9h0m.2 3.6h0m42.6 1.4h0m0-.6h0m.2-1.1h0m1.7-1.4h0m3.1 0h0m.8 1.8h0m.4 .6h0m1.2-3.4h0m9-.2h0m2.7 .3h0m4 1h0m5.7-2.8h0m.1 3.3h0m2.9 1.6h0m1 .6h0m1.2 .2h0m1.2-5.9h0m1.9 4.2h0m1.6-4.2h0m4.6 .6h0m1.3 4.6h0m1.2-4.2h0m1 1.4h0m.8 .9h0m3.1 .9h0m1.6 .8h0m.5-4.2h0m4.8 2.5h0m.7-.1h0m.3 1.3h0m2.7-2.6h0m2.4 .9h0m3.8 1.7h0m3.5-.4h0m3.6-4h0m1.2 5.7h0m5.7-3.4h0m.6 .3h0m3.2-2h0m4.2 3.2h0m1.1 .5h0m3.7-.1h0m3 1.1h0m.4-3.5h0m5 .2h0m25.9-2.1h0m-433.8 6.9h0m21 .6h0m61.8-.7h0m24.7 1.9h0m9.2-2h0m15.4 5.2h0m18.3-2.3h0m1.7-.6h0m1.7 2.2h0m4.8-3h0m3.1-1.5h0m1.8 3h0m.1-1.3h0m2.1-1.6h0m2.9 3h0m3.9-3h0m6.5-.2h0m3.2 4.5h0m.1-2.4h0m5.7-2.6h0m.4 2.2h0m4.2 1.3h0m1.2-2.8h0m1.5-.4h0m1.4 1.6h0m1.4 1.6h0m2.5-.1h0m6-2.5h0m.1 3.7h0m.4-1.7h0m11.7 .2h0m.3 2.6h0m2.1-4.8h0m4.1 1h0m2.8-1.3h0m1.4-.7h0m1.3 5.8h0m.3-5.6h0m8.7 1.2h0m2.1 3.4h0m5.1-.4h0m.5-2.3h0m56.9 2.1h0m.9 .1h0m2.3-.6h0m2.6-1.1h0m.1-.5h0m.4 3h0m10.5-4.9h0m2.5 3.6h0m1.9-1h0m1.6-.1h0m.1 .4h0m.4-1.6h0m1.1-.8h0m20.9 3.8h0m.4-4.5h0m3.9 5.4h0m.6-3.4h0m1 .5h0m2.8 1h0m.7 2h0m.5-1.4h0m.6-4h0m.1 3.6h0m.1-1.3h0m.1 2.6h0m4.2 .7h0m1.1-1.1h0m.1-4h0m3.5 1.9h0m1.3-.9h0m0-.2h0m2 1.9h0m.1 2.5h0m5.8-1.4h0m3.1 .1h0m3.9-.6h0m0-1.1h0m1.7 1.9h0m10-3.2h0m1.4 1.8h0m1.5 .5h0m4.7-1.7h0m8.2-1h0m10 4.9h0m4.1-2h0m3.2 0h0m-410.3 5.8h0m3.9 .2h0m25.5 1.8h0m15.8-5h0m29.3 3h0m11.7 1.8h0m12.4 0h0m5.8-2.1h0m2.8 0h0m12.2 2.2h0m7.2 0h0m.2-4.4h0m4.3 3h0m.2-3.4h0m3.8 1.8h0m.8-.2h0m4.2-.9h0m1.9 3.7h0m1.6-2.9h0m3.2 1.4h0m1.8 1.7h0m9.9-2.8h0m2 1.9h0m.7 1.2h0m2.1-4.2h0m1.1 2.8h0m.6-1.2h0m.6 1.4h0m.6-1.8h0m5.9-.3h0m5.4 2.4h0m.2-1.6h0m.6 2.2h0m1.2-5h0m2.7 3.7h0m2.3-3.9h0m1.2 4.9h0m13.4-2.1h0m4.6 1.5h0m.4-1h0m.3-3.2h0m3.7 .7h0m2.6-.4h0m12.3 2.9h0m.4-3h0m2.6 4.1h0m.7 1.1h0m2-2.5h0m.6-2.2h0m52 .4h0m1.5-.2h0m.9 3.6h0m.4-.7h0m2.9-.3h0m2.1-2.1h0m1.7-1.6h0m41.5 3h0m1-1.5h0m6.1 2.3h0m1.5-.2h0m5.5-1.7h0m2.5 1.2h0m.2 .8h0m.4-1.7h0m.2 1.3h0m3.4-2h0m3.5 2.9h0m.9-3h0m3.6 3.5h0m1.6-4.4h0m1.9 3.2h0m2.6 1.4h0m9.2-2.6h0m1.7 2h0m2 0h0m.8-3.7h0m7 2.2h0m5.2 1.2h0m2.7-.7h0m3.7-2.3h0m4.4 2h0m1.6-2.6h0m2.2 3.1h0m-594.9 4.5h0m70.9 1.9h0m131-3.3h0m20.2 2.7h0m17.1-2.8h0m2.2 4.2h0m3.9-4.9h0m4.8 2.7h0m16.2 .2h0m19.8-1.9h0m3.5 .3h0m5.4-1.1h0m5.2 3.5h0m3.5-2h0m.8 1.8h0m2.5-2h0m5.3-.6h0m1.3 4.6h0m4-1.7h0m.3-2h0m5.6 1.8h0m.7-3.5h0m2.4-.2h0m5.1 5.8h0m1.5-4.2h0m.6 2.7h0m14.9-2.9h0m4.7 1h0m2-2h0m1.7 4.9h0m3.5-.5h0m1.6-2.3h0m1.5 .7h0m1.4 .2h0m3 2h0m.8 .3h0m2.1-5.5h0m2.3 3.5h0m1.6 1.5h0m.7 .7h0m14-3.5h0m.3 1.3h0m.5 2.1h0m.8-3h0m4.6-.9h0m1.3 1.8h0m.4-1.5h0m117.8 3h0m5.8-1.8h0m.5-3h0m.5 1h0m.7 3.3h0m1-4.8h0m1.6 .4h0m2.5 5.2h0m.2-2h0m9.3-.7h0m.8 1h0m3.9 .3h0m1.1-.5h0m2.6-.4h0m2.8-.4h0m.2 .5h0m.6-2.3h0m2.2 3h0m12-1.4h0m1.9 .7h0m3.5 1.4h0m1.1-3.2h0m4.4 3.4h0m3.8-3.5h0m1.5 .5h0m1.2 1.8h0m.6-.1h0m4.2-.9h0m5 .1h0m-408.7 7.4h0m55.7-2h0m31.8-1h0m8 4h0m10.4-.7h0m20-.1h0m.2-.8h0m1.7-2.7h0m13-.6h0m3.5 1.5h0m1.6-.2h0m1.6 4.2h0m16.9-5.6h0m.3 5.5h0m3.5-1.5h0m2.4-3.4h0m.2 4.1h0m1.2-1.2h0m8.5 1.3h0m.6-.2h0m1.7-3h0m3.7 1.5h0m1 1.1h0m.5-4h0m3.6 5.5h0m2.1-3.9h0m1.5 .1h0m14.9-.9h0m1.1 2.6h0m2.3 .6h0m.6-1.4h0m1.6-1.9h0m.5 1.7h0m112.1-2.6h0m1.6 4.2h0m.4 .3h0m4.9-2.6h0m.3 2.1h0m6.3-4.3h0m1.5 4.7h0m.1-4.1h0m4.7 3.4h0m16.5-2h0m3 .9h0m3-1.4h0m.5 3.3h0m4.7-2.5h0m2.7 2.3h0m2.2-1.2h0m4.1 .2h0m1.4 1.1h0m.5-2.2h0m.2-.9h0m4.1 .1h0m1.4-1.4h0m2.4 .4h0m1.1 .8h0m2.6 3.1h0m2.8-2h0m-439.9 5.5h0m51.1 .4h0m30.3 1.5h0m5.7-.5h0m32 1.1h0m4.3 .4h0m14.5-.8h0m.7-.5h0m3.4 .3h0m2.9 .7h0m15.5 .2h0m5.6-1.4h0m2.3-2.4h0m3.3-.4h0m4.5 2.4h0m7-2.7h0m.7 3.8h0m9.3-2.2h0m1-1.5h0m1.1 1.3h0m2.7 3.3h0m3.4-2.8h0m4 .6h0m.5 1.8h0m7.6-2.3h0m1.5 2.3h0m.6-2.7h0m.5-.7h0m1.2-1h0m.8 4.6h0m5.3-2.8h0m0 3.4h0m.8 .2h0m1.6-3.5h0m11.3-.2h0m4.6 1.8h0m.5 .4h0m1-1.1h0m148.7 2h0m2.6-2h0m.3-1.9h0m3.1 .7h0m2 3.2h0m.7 .8h0m2.1-2.6h0m.2-2.1h0m1.8-.4h0m3.2 5.2h0m.2-5.1h0m.8-.1h0m6.2-.8h0m.9 5.4h0m2.9-1.1h0m1.4-1.8h0m.7-1.8h0m1.4 5.3h0m2.6-3.6h0m4.7-1.3h0m.7 3.9h0m4.5-1.8h0m.5-2.6h0m.2 4.5h0m-543.3 5.1h0m83.8-3.3h0m85.3 1.2h0m21.3-2h0m31.8 3.9h0m26.9-3.9h0m5.3 2.3h0m5.5 .7h0m15.1-1.8h0m13.1 3.8h0m1.6-4.3h0m1.2 .2h0m8 4.6h0m1.5-1.1h0m4.1-4.4h0m1.3 5.1h0m2.1 .3h0m0-1.7h0m1.1-.2h0m.8 1.3h0m1.1-3.8h0m8 3.8h0m.2-2.7h0m1.7 2.2h0m1.3 1.2h0m3.6-1.1h0m.6 .4h0m9.5-.6h0m2.4 1h0m1.6 .6h0m.6-3.2h0m.6 .3h0m3.6-2.8h0m1.5 3.4h0m.5-1.4h0m.3 2.7h0m2.3-1.7h0m151.2 .9h0m.7 1.4h0m.5-3.3h0m.3 1.7h0m5.5-2.8h0m5.4 4h0m.6-4.3h0m3.3 2.3h0m1.1 .1h0m4.9 0h0m4.1-.1h0m2.6 2.3h0m6.2-2.2h0m.2-1.8h0m1.5 .1h0m2.2 3.3h0m.6-1.3h0m.9-.8h0m.2-1.4h0m-557.2 9.1h0m30.7 .5h0m106.5-1.2h0m38.1-1.6h0m48.6-.3h0m12.2-.9h0m10.6 3.9h0m31.9-4.2h0m6.6 0h0m2 4.1h0m1.4 .1h0m5.3-.8h0m7.1-.3h0m.7 1.6h0m9-3.8h0m.8-.4h0m4.7 4.1h0m1-4.1h0m3.4 2.9h0m4 .8h0m3.3-2.4h0m2.7-1.8h0m.6 3.8h0m0-2.1h0m.5 1.5h0m3.4-3.4h0m1.4 4h0m6.4-3.9h0m1.6 .4h0m3.8 .9h0m.5 .3h0m.1-.3h0m9.4 2.3h0m1 1.6h0m.8-4h0m148.6 2.2h0m.1 1.7h0m1.6-5.5h0m3.6 5.5h0m1.3-2.8h0m6-.9h0m2.8-1.8h0m6.1 4h0m.5 1.2h0m.3-1.7h0m1 1.6h0m7.4 .6h0m1.8-3.3h0m.9-.8h0m1.5 .9h0m5.9-.3h0m.1-.8h0m.4 4.5h0m1-4.5h0m1.4-.5h0m-594.8 9.3h0m234.5-3.8h0m5.5 5.2h0m24.8-.8h0m12.8-2.5h0m39.3 3.5h0m5.8-3.1h0m1.5-1.7h0m5.2 3h0m2.4-1.4h0m7.7 2.8h0m.5-.1h0m1.7-3h0m3-1h0m4.7 .5h0m3.8-.1h0m5.2 2.6h0m.9-1h0m4.9-1.5h0m.4 4.1h0m3.5-2.2h0m1.2 .1h0m3.2-1.4h0m.2-1.3h0m2.1 .8h0m1.3-1.9h0m.8 1.4h0m2.2 .5h0m2.7 .3h0m2.6-1.1h0m1.2 1.8h0m.3-1.9h0m.5 1.9h0m2.5-1.6h0m3.1 .4h0m.8-1.3h0m2.4 .4h0m1.9 .7h0m1.8-.6h0m1 .8h0m.1-1.8h0m152.2 2.9h0m3.8 .1h0m.8 1.5h0m2.4-2.5h0m1.9-.8h0m2.6-1h0m1.5 .5h0m.5 5h0m.1-4.1h0m9.1 2.4h0m.2-3.6h0m.5 3.5h0m4.2-3.6h0m.9 4.1h0m1 .7h0m3.2 .2h0m1.5-3.5h0m.1-.8h0m0 1.9h0m1-.2h0m2.1-1.3h0m-565 8.6h0m20.7-2.8h0m71.6 .9h0m141.6-1.4h0m29.2 2.1h0m13.8-2.5h0m.1 3.6h0m9-3.8h0m7.8 3.3h0m11.3 1.2h0m7.2 1.2h0m2.9-3.6h0m.2 .9h0m2.2-1.2h0m4.8 1.7h0m2.9-3.5h0m3.8 2.7h0m1.3-2h0m2.4 .1h0m.5 4.9h0m4.4 0h0m1.4-1.4h0m2.8 .3h0m4.6-4.1h0m1.3 2.2h0m1.7 1.2h0m1.4-2h0m.3 .4h0m2.3 .2h0m2.3 1.2h0m.5-1.9h0m3.3-.5h0m174.7 4.3h0m.9-1.6h0m.9-2.7h0m.1 3.2h0m1.8-4.3h0m.3 3.1h0m3.1-2.9h0m7.6 .3h0m1.6 3.4h0m3 .9h0m4.5-3.3h0m1.6 1.8h0m.8-3.5h0m1.3 1.1h0m-425.7 5.5h0m19.8-.7h0m2.4 0h0m6.2 3.8h0m28.6-3.4h0m93.5 .8h0m4.1 4.5h0m3.9-2.5h0m5.9 1.3h0m3.6 .8h0m3.9 .4h0m16.8-5.2h0m2.5 3.1h0m4-3.5h0m2.1 1.7h0m.5 3.8h0m2.4-4.7h0m1.4-.6h0m1 5.4h0m5.5-2h0m.6-2.1h0m.3 3.8h0m1.1-1.8h0m5.3-.4h0m.2 2.7h0m.5-5.5h0m11.3 4.7h0m.2 .6h0m3-3.3h0m2.7 2.3h0m1.3 .4h0m161.1-3.1h0m.1-1.6h0m.4 2h0m3.2 2.8h0m3.4-1.1h0m.2-.5h0m1.4-1.3h0m.1-1.1h0m14.6 3.7h0m1.7-4.3h0m-335.5 9.6h0m23.8-1.7h0m16 1.1h0m3.4 1.5h0m12.2-2h0m6.4-1.5h0m6.5 2.3h0m8.1-1.4h0m1.7 2.7h0m11.5-1.9h0m14.9-2h0m0 3.9h0m0-2.8h0m1.6-1.9h0m.4 .3h0m.8 2.7h0m7.8 .9h0m.2-.3h0m1 1.9h0m2.9-5.7h0m6.3 .9h0m.5 4h0m.2-1.8h0m17.3-1.3h0m3.4 .6h0m161.6 .3h0m2.6-2.7h0m.2 5.2h0m3.2-1.4h0m15.5-4h0m.7 1.6h0m.1-.6h0m-338.8 10.1h0m40 .2h0m22.5-.4h0m8.8-3.5h0m8.3 1h0m1.8 2.4h0m.3 .9h0m3.2-3.8h0m.2-.2h0m2.4 2.9h0m2.7 .2h0m2-.5h0m2.1-3.4h0m6.7 3.6h0m4.9-1.3h0m2.1 1.4h0m3.8 .8h0m.2-4.6h0m1.7-.3h0m1.7 5.4h0m2.6-5.8h0m4.1 1.9h0m.8 3.2h0m1.7-3.9h0m2.6 .6h0m.9 1.5h0m.4 1.6h0m3.8-3.8h0m.4 3.9h0m3.5-3.2h0m14.2 3.6h0m1.9-.3h0m5.5-2.1h0m1 2h0m.8-3.5h0m2.5-1.6h0m1.5 .2h0m1.4 3.2h0m154.9-3h0m11.2 4.7h0m.3-3.4h0m.7-.1h0m1.6-1.3h0m1.4 .4h0m.4-.6h0m-361.5 7.1h0m5.8-.6h0m62.6 1.7h0m19-1.9h0m6 2.7h0m14-.8h0m2.2-.4h0m.9 3.5h0m2.1 .4h0m3.6-3.1h0m3.5 2.5h0m.7-4.8h0m4.1 .9h0m.6 4h0m1.8 .4h0m2-1.6h0m7.8-2.2h0m8.9 1.7h0m.4 1.9h0m2.7-5.3h0m4.6 .9h0m1.2-.9h0m1.2 2.8h0m1.8 1.1h0m2.1-3.4h0m2 5h0m2.7-5.2h0m12.8-.3h0m.8 4.6h0m2.3-.3h0m2.5-1.4h0m.2-1.6h0m.3 3.9h0m1-.5h0m2.2-2.1h0m2.3-2.7h0m163.3 5.1h0m.9-5h0m.5 3.6h0m.1-1.6h0m.6-1.7h0m.3 .5h0m-377.8 8.7h0m2.4 .2h0m21.1-.3h0m53.9 .5h0m2.4 .5h0m7.5-4h0m36.2 2h0m3.5 2.7h0m7.2-3.2h0m1.7 3.2h0m.7-1.4h0m11.6-1.9h0m.6 .7h0m1.1 1h0m.9-.3h0m3.8-2.4h0m4.1-.8h0m2.1 5.4h0m2.6-4.3h0m2.1-1.2h0m5.7 2h0m1.3 2.9h0m5.3-3.9h0m1.5 4.2h0m5.7-4.3h0m3.7 2.8h0m10.4-1.5h0m.3 2.5h0m3.4-3.6h0m2.8 2.3h0m.5-2.7h0m.9-.1h0m.3 5.1h0m.7 .1h0m2.6-1.2h0m2-4.5h0m1.7 1.9h0m156.5 1.5h0m.1 .8h0m1.4-2.7h0m3.1-1.6h0m-320.8 6.9h0m11.6 4.4h0m9.2-1.3h0m14.1-2.2h0m15.8 1.3h0m.3-2.7h0m8.3 .9h0m4.6 1.1h0m5.6-1.5h0m8.9 3.8h0m4.5-.8h0m7.9 1h0m.8 .3h0m.2-4.4h0m.4 1.5h0m5.2-1.5h0m1 1.7h0m1 3h0m1.7-1.1h0m2.4-1.1h0m1.1 2.2h0m4.4-5h0m2.3-.6h0m2.7 .7h0m1.8 4.1h0m3.1-1.5h0m3.3-2.6h0m1.6 3.5h0m2.9 1h0m.9-4.8h0m1.9 4.2h0m2.4-.7h0m.2 .2h0m1.3-2.8h0m.2 1h0m.3 2.9h0m.3-4.7h0m.2 3.8h0m10.4-.8h0m3.7-3.2h0m7.2-.4h0m156.1 4.9h0m.6-.3h0m.5 1.2h0m.4-2.9h0m1 2h0m1.1-2.8h0m-359.5 7.4h0m3.3 .5h0m38.1-1.4h0m36.6 2.5h0m13.9 0h0m11.1-4.6h0m3.4 4.8h0m9.9-3.3h0m4.4 1.2h0m3.3-1.8h0m1.3 2.2h0m6.9-3h0m5 3.1h0m0-1.5h0m1.8-.5h0m.1 1.4h0m.6 .6h0m.4-2.3h0m3.8 2.5h0m2.1 .5h0m4.2-3h0m1.2 1.9h0m6-.4h0m.5-1.1h0m3.8 2.5h0m1 .8h0m1.5-.6h0m1.7-2h0m2.9-.7h0m4.8 2.5h0m.5-.4h0m.5-2.3h0m.5 .4h0m1 3.7h0m4.1-.9h0m.7-2.8h0m171.7 1.6h0m1.5-2.7h0m.4 1.8h0m-274.3 5.2h0m8.8 .1h0m4 1.5h0m14.4-2.9h0m2.8 1.9h0m2.2-.2h0m1.8 0h0m1.1 .3h0m6.2 1.5h0m1.4-1.6h0m3.6 1.5h0m5.2 1h0m3.8-1.7h0m1.6 1.7h0m6.5-4.2h0m1 1.8h0m2.1-.2h0m.8 3.4h0m.5-1.1h0m2.4-4.4h0m1.7 5.2h0m1.6-2.4h0m3.7 2.8h0m3-2.3h0m1.6 1.6h0m3.6-1.1h0m.4-2h0m1.2 3.6h0m3.3-.3h0m.7-.3h0m1.9-.7h0m173.7 .6h0m.9-.3h0m.4-.1h0m.7-2.5h0m.9-1.5h0m.5 2h0m.2-2.2h0m1 1.3h0m-325.7 8.8h0m12.2 1.5h0m8.8-1.2h0m16-2h0m8.4-1.1h0m6.6 4h0m3.8 .1h0m3-5.2h0m6.8 4.2h0m4.5-2.3h0m8.3-.5h0m7.2 2.3h0m1.7 .9h0m16.3-3.7h0m2.6 .7h0m6.6 2.4h0m.1-2.4h0m1.1-1.6h0m2.2-.4h0m0 .7h0m3.6 3.3h0m9.8-1.1h0m.2 1.2h0m.1-1.7h0m2 2.1h0m.4-2.2h0m1.4 2.3h0m5.4-1.5h0m2.1 1.8h0m2.8-.3h0m.8 .4h0m3.2-1.3h0m.7-.4h0m169.6 1.3h0m.3 0h0m1.9-3.1h0m-323.3 4.8h0m10.7 .9h0m15.3 2.5h0m56.2-.1h0m4.7 .6h0m1.7-.6h0m7.1 0h0m10.5 .3h0m1 .4h0m4.8-.1h0m.3-4.2h0m.7 3h0m.5-2.3h0m1.6 4.6h0m5.6-4.1h0m4.8 .8h0m.2 3h0m4.3-2.6h0m.7 .1h0m5.6 1.2h0m2.3-3.7h0m.3 .2h0m4 3.5h0m.6-.5h0m5.5 .4h0m4.2 1h0m162.8-.1h0m1.9-2h0m1.3-2h0m-284.4 5.4h0m25 1.4h0m21.4 1.3h0m1.8-1.3h0m5.1 4.5h0m4.3-3.8h0m3.3-1.5h0m2.9-.7h0m11.5 5.7h0m2.8-1.3h0m1.8-.8h0m.3-1h0m3.3 .5h0m4-1.5h0m7.6-.4h0m.7 .9h0m.7 3.1h0m3-5h0m11.9 1.1h0m.5 2.5h0m.9 .6h0m4.3-1.1h0m1.2-1.1h0m4.8 1.2h0m.6-3.1h0m.4 2.3h0m151.9 3.1h0m.7-.3h0m.2-2.3h0m.9 .6h0m0-2.2h0m1.8-.6h0m.2 .8h0m-287.6 4.8h0m19.5 2.9h0m12.5-2.3h0m4.1 1.6h0m15.4 2h0m25.5-2.9h0m.5-.5h0m1.6 2.5h0m1.6-3.7h0m3 .6h0m.7 .5h0m1.4 .7h0m2.1 2.2h0m3.7 .4h0m.6 .8h0m1.1-4.7h0m2.1 .7h0m4.8-1.2h0m2.6 0h0m2.2 1.8h0m3.1 3.3h0m12.2-2.1h0m.1-3h0m4.5 4.8h0m2.6-3.6h0m152 1.7h0m.1 2.5h0m.2-2.2h0m1.4-.5h0m.4 .4h0m.3-1.5h0m.7-1.6h0m-241.9 9.7h0m2.6-2.5h0m11.3 1.2h0m7.1 1.1h0m5.8-.5h0m1.2 1.7h0m4.5-4.2h0m3.8 .2h0m2.8 5h0m.4-.7h0m1.7-1.3h0m6.2 1.7h0m.6-.3h0m1.8-4.3h0m.5 .9h0m.1 2.7h0m4.6 .4h0m1.1-1.3h0m.8-2.2h0m2.3 3.6h0m.1-2h0m0-2.4h0m2.7 .8h0m5.8 1.7h0m2.3 2.8h0m.1-5.5h0m3.4 .1h0m0 1.3h0m2.3 1.9h0m157.4 1.7h0m.7 .4h0m.9-1h0m.9-.9h0m.1-3.3h0m.5 2.2h0m.6-2.3h0m-254.9 6.7h0m16.1 2.2h0m7.7-.2h0m6.9 1.8h0m3.5-3.4h0m7.9 .4h0m.9 1.1h0m.9 2.7h0m11-4.6h0m1.5-1.1h0m0 2.7h0m1.4 2h0m4.6-3.6h0m.6 3.2h0m.9-.2h0m5.2-1.3h0m3.3 .1h0m3.7-1.9h0m2.4 3.2h0m1.7-2.9h0m1.6 0h0m2.6-.5h0m2.7-.4h0m3.4 .4h0m.3 1.9h0m.6-1.5h0m.6 2.2h0m3.2 1.2h0m1.9-3.5h0m.2 .6h0m151.5 3.1h0m.4-2.8h0m.5 .7h0m1-1.3h0m-238.1 7.3h0m3.5-1.6h0m5.1 1.4h0m0 1.9h0m.2 1.2h0m19.3-5.6h0m1.6 5.3h0m.2-1.9h0m4.9-3.3h0m4.1 1.5h0m1.2 2.8h0m4-2.6h0m2.3-.9h0m3.8 .3h0m3.2-.6h0m.2 4.5h0m.5-2.5h0m2.6 1.2h0m1.9-3h0m3.3 .1h0m.6 2.5h0m5.4 .8h0m.5-3.3h0m.1 4.8h0m1.4-2.6h0m160.6 .1h0m.2 1.4h0m.2 .2h0m.5-1.5h0m.1-2.4h0m.5 .2h0m.3 1.9h0m.7-1.9h0m.2 .7h0m-221.7 7.2h0m6.7 .2h0m2.5-2.1h0m1.3 3.8h0m.5-3.4h0m13.8 2.5h0m12.8-3h0m.3 .1h0m2.1 4.3h0m.7-.7h0m3.4-1.8h0m3.9-2h0m1.8 2.1h0m1-2.4h0m3 1h0m5.3-.9h0m.2 3.6h0m154.2 .1h0m2.1-.8h0m0-.4h0m.7-.4h0m.6-1.7h0m.8 .3h0m-215.7 4.8h0m1.6 .2h0m5.2 1.6h0m4.2 .2h0m2.6 3.5h0m3.4-5.3h0m.4 .8h0m1.5 2.3h0m1.2-2.5h0m3.1-.5h0m2.9 1.9h0m6.2 .1h0m.6 3.2h0m4.3-4h0m3.6 .8h0m1 2.4h0m4-4.8h0m1.9 .3h0m.5 4.2h0m1.5-1.2h0m7.5-1.9h0m2.1 3.3h0m4.9 .2h0m5-.4h0m137.2 0h0m1.5-.2h0m.2-.2h0m.2-.8h0m1.1-.7h0m.7-1.6h0m.6 .6h0m.2-1.8h0m.7 .4h0m-187.8 7.1h0m2.4-1h0m.9 3.9h0m.4-1.7h0m8.9 0h0m2.6-.3h0m3.3-.9h0m2.8 4h0m2.5-3.3h0m4.1 .2h0m.9 1.4h0m.1-.4h0m3.5-.8h0m.9-1.7h0m3.2 3.9h0m5.2-1.2h0m3.7-1.6h0m1.3 .2h0m131.3 3.5h0m1.5-1.6h0m.3 .4h0m.5-1.2h0m.3-.7h0m0 .9h0m2-2.9h0m.3-.2h0m-183.6 8.2h0m4.5-2.1h0m4.9 4.4h0m2.3-1.7h0m.6-2.1h0m3 .8h0m1.4-1.7h0m1.4 5.4h0m2.2-2h0m2.2-2.1h0m3.4 .6h0m1.5 .8h0m2.9 1.6h0m.4 1.4h0m.6-2.3h0m5.2-1.9h0m138.8 .9h0m.1 1.2h0m.2 1.7h0m2.9-3.5h0m.4-1.8h0m.6-.1h0m-172.6 7.6h0m4 .8h0m3-2.3h0m1.3 2h0m2.1 2.3h0m.8-1.9h0m.4 2.8h0m12.5-1.3h0m1-2.6h0m4.5 3.9h0m.9-4h0m.4-1.2h0m.4 0h0m.6 3.6h0m0-2.8h0m9.2 4.1h0m121.6 .1h0m1.9-1.8h0m.1 1.6h0m.7-1.9h0m1-1.5h0m-156.9 6.4h0m.6-.1h0m2.5 2.2h0m.7 .9h0m14.8-3.7h0m8.8 1.9h0m5.2-2.1h0m.3 2.4h0m.9-2.6h0m115.4 4.9h0m1.7-1.8h0m2.2-3.5h0m-146.7 7.3h0m1 1.2h0m2.1 .9h0m.8 .8h0m1.2 1h0m17.9-5.6h0m115.8 4.2h0m0 .4h0m.7 0h0m.5-1.9h0m1-1.3h0m.3 .5h0m.9-1.3h0m-133.6 7.2h0m2 1.4h0m.8 1.4h0m.9 1.3h0m121.3-.6h0m1.8-1.8h0m.2-1.5h0m0 1.4h0m.7-.5h0m1.1-2.4h0m-123.2 6.4h0m2.6 .2h0m1.1 1.7h0m.3 1.7h0m1.1 .4h0m.5-.7h0m108.6 1.6h0m.8-1.7h0m.6-1.4h0m.3 .8h0m1.7-.8h0m.2-1.8h0m.7 .9h0m-111.6 4.8h0m1.6-.3h0m1.3 2.7h0m1.8 1.8h0m.6 .7h0m.5 0h0m96 .1h0m1.6 .2h0m0-1.2h0m.1-.7h0m1.8-1.8h0m.4 1.6h0m.1-1.2h0m1.6-2.4h0m-100.3 7.1h0m.2-.8h0m.6 2.4h0m1.2 .7h0m.2 .2h0m3.5 1.3h0m85.2-.7h0m.2 .2h0m1.5-2h0m.1 .4h0m0 .5h0m.8-.1h0m.4-.5h0m.3-.3h0m-88.3 4.3h0m1 .3h0m.5-.8h0m.5 1.3h0m.8 1.2h0m.8 .5h0m.5 1.1h0m.2-.5h0m.5-.3h0m.8 2h0m75.8-2.4h0m.1 1.5h0m0 .7h0m1.2-2.8h0m1-.1h0m1-1.7h0m-78.4 5.6h0m.7 1.2h0m.3 .3h0m.8-.4h0m.9 2.2h0m.5-.1h0m.2-.4h0m.4-.3h0m1 2.2h0m65.4-.2h0m.3-2.7h0m1.2 .1h0m.7 .7h0m.6-1.9h0m-67.3 5.7h0m.7-.5h0m1.5 1.3h0m.1 1.9h0m.7 1.1h0m.4-.3h0m3.1 1.6h0m55.2-2.4h0m.4-1.3h0m.6 .6h0m.2-1.1h0m.4-1.5h0m0-.2h0m-57.8 5.9h0m0 .6h0m.5-.3h0m2.1 1.4h0m.1 2.3h0m.6-.9h0m1 1.3h0m.2 1.1h0m45.3 .2h0m.9-1.3h0m.2-2.4h0m0 2.7h0m.3-1h0m2-2.9h0m.1 .8h0m.2-1h0m.3-.3h0m-48.1 5.7h0m0 .6h0m.8 .7h0m.9 1.1h0m.3 1.3h0m.4-1.3h0m.3 1.8h0m.3-.8h0m.6-.2h0m.1 .3h0m.5 2.1h0m.2-1.2h0m34 1.1h0m1 0h0m.9-1.2h0m.8-.5h0m.3-.8h0m.9-.5h0m-37.3 4.4h0m1.6 .2h0m.5 1.4h0m.3-.5h0m.6 2.5h0m.7 1.5h0m26.4-.9h0m.3 .6h0m1.4-2.9h0m.8 .1h0m.4-1.3h0m.5-.1h0m-28.6 5.2h0m1.8 1.7h0m.2 .7h0m.9 1.6h0m.9 1.1h0m16.3 .1h0m.1-.1h0m1.2-2.3h0m.1-1.4h0m.5 1.8h0m.3-2.5h0m.5 .6h0m.5-.4h0m.1-1.4h0m.8 .3h0m-19.5 6.3h0m1 1.9h0m1.5 1h0m.2 0h0m.1-.7h0m7.9 1.3h0m.3 1.6h0m1.8-2.2h0m.1-3h0m.6 1.8h0m-9.1 4.4h0m1.8 2h0m1.1-.2h0m.3 .9h0m.2 1.1h0m1.2-2.8h0m1.1-1.3h0" stroke-width="5.3" stroke-linecap="round"/>
</g>
<path d="M106.5 193.1 119.5 195.4 132.6 197.8 145.6 200.3 158.6 202.8 171.6 205.5 184.7 208.3 197.7 211.2 210.7 214.2 223.7 217.4 236.8 220.7 249.8 224.2 262.8 227.8 275.8 231.6 288.9 235.6 301.9 239.8 314.9 244.2 328 248.9 341 253.8 354 259 367 264.6 380.1 270.4 393.1 276.6 406.1 283.3 419.1 290.3 432.2 297.9 445.2 306 458.2 314.7 471.2 324.1 484.3 334.3 487.9 337.3 491.6 340.3 495.3 343.5 498.9 346.7 502.6 350 506.2 353.4 509.9 356.8 513.6 360.4 517.2 364 520.9 367.7 524.6 371.6 528.2 375.5 531.9 379.5 535.5 383.6 539.2 387.9 542.9 392.3 546.5 396.7 550.2 401.4 553.9 406.1 557.5 411 561.2 416 564.8 421.2 568.5 426.6 572.2 432.1 575.8 437.8 579.5 443.6 583.2 449.7 586.8 456 590.5 462.4 594.1 469.1 597.8 476.1 601.5 483.2 605.1 490.7 608.8 498.4 612.5 506.4 616.1 514.7 619.8 523.3 623.4 532.3 627.1 541.6 630.8 551.3 634.4 561.5 638.1 572 641.8 583.1 645.4 594.6 649.1 606.7 652.7 619.3 656.4 632.6 660.1 646.5 663.7 661.1 667.4 676.5 671.1 692.8 674.7 709.9 678.4 727.9 682 747.1 685.7 767.4 689.4 788.9 693 811.8 696.7 836.3 700.3 862.4" fill="none" stroke="#7b7b7b" stroke-width="4.4"/>
<path d="M106.5 197.4 117 200.6 127.5 204.1 138 207.7 148.5 211.4 159 215.3 169.5 219.4 180 223.6 190.4 228.1 200.9 232.8 211.4 237.7 221.9 242.9 232.4 248.3 242.9 254 253.4 260.1 263.9 266.5 274.4 273.3 284.9 280.5 295.4 288.1 305.9 296.2 316.4 304.9 326.9 314.2 337.4 324.1 347.9 334.8 358.4 346.3 361.2 349.5 364.1 352.9 366.9 356.3 369.8 359.8 372.6 363.4 375.5 367.1 378.4 370.8 381.2 374.6 384.1 378.5 386.9 382.6 389.8 386.7 392.7 390.9 395.5 395.2 398.4 399.6 401.2 404.1 404.1 408.7 406.9 413.5 409.8 418.4 412.7 423.4 415.5 428.5 418.4 433.8 421.2 439.2 424.1 444.7 427 450.5 429.8 456.3 432.7 462.4 435.5 468.6 438.4 475 441.3 481.7 444.1 488.5 447 495.5 449.8 502.7 452.7 510.2 455.5 517.9 458.4 525.9 461.3 534.1 464.1 542.7 467 551.5 469.8 560.6 472.7 570.1 475.6 579.9 478.4 590.1 481.3 600.6 484.1 611.6 487 623 489.9 634.9 492.7 647.2 495.6 660.1 498.4 673.6 501.3 687.6 504.1 702.3 507 717.6 509.9 733.6 512.7 750.5 515.6 768.2 518.4 786.7 521.3 806.2 524.2 826.8 527 848.5" fill="none" stroke="#4f4f4f" stroke-width="4.7" stroke-dasharray="14.6 13.6"/>
<path d="M556.5 409.6L852 25.8" fill="none" stroke="#999" stroke-width="4.5"/>
<path d="M148.5 3v8.8M148.5 862.4v-8.8M190.4 3v17.5M190.4 862.4v-17.5M232.4 3v8.8M232.4 862.4v-8.8M274.4 3v8.8M274.4 862.4v-8.8M316.4 3v8.8M316.4 862.4v-8.8M358.4 3v8.8M358.4 862.4v-8.8M400.3 3v17.5M400.3 862.4v-17.5M442.3 3v8.8M442.3 862.4v-8.8M484.3 3v8.8M484.3 862.4v-8.8M526.2 3v8.8M526.2 862.4v-8.8M568.2 3v8.8M568.2 862.4v-8.8M610.2 3v17.5M610.2 862.4v-17.5M652.2 3v8.8M652.2 862.4v-8.8M694.1 3v8.8M694.1 862.4v-8.8M736.1 3v8.8M736.1 862.4v-8.8M778.1 3v8.8M778.1 862.4v-8.8M820.1 3v17.5M820.1 862.4v-17.5M862 3v8.8M862 862.4v-8.8M904 3v8.8M904 862.4v-8.8M106.5 829.3h8.8M946 829.3h-8.8M106.5 796.3h17.5M946 796.3h-17.5M106.5 763.2h8.8M946 763.2h-8.8M106.5 730.2h8.8M946 730.2h-8.8M106.5 697.1h8.8M946 697.1h-8.8M106.5 664.1h8.8M946 664.1h-8.8M106.5 631h17.5M946 631h-17.5M106.5 598h8.8M946 598h-8.8M106.5 564.9h8.8M946 564.9h-8.8M106.5 531.9h8.8M946 531.9h-8.8M106.5 498.8h8.8M946 498.8h-8.8M106.5 465.8h17.5M946 465.8h-17.5M106.5 432.7h8.8M946 432.7h-8.8M106.5 399.6h8.8M946 399.6h-8.8M106.5 366.6h8.8M946 366.6h-8.8M106.5 333.5h8.8M946 333.5h-8.8M106.5 300.5h17.5M946 300.5h-17.5M106.5 267.4h8.8M946 267.4h-8.8M106.5 234.4h8.8M946 234.4h-8.8M106.5 201.3h8.8M946 201.3h-8.8M106.5 168.3h8.8M946 168.3h-8.8M106.5 135.2h17.5M946 135.2h-17.5M106.5 102.2h8.8M946 102.2h-8.8M106.5 69.1h8.8M946 69.1h-8.8M106.5 36.1h8.8M946 36.1h-8.8" fill="none" stroke="#2e2e36" stroke-width="1.5"/>
<path d="M106.5 862.4V3H946" fill="none" stroke="#3c3c46" stroke-width="1.9" stroke-linecap="square"/>
<path d="M106.5 862.4H946V3" fill="none" stroke="#3c3c46" stroke-width="1.4" stroke-linecap="square"/>
<text y="898" font-size="26" font-weight="bold"><tspan x="163.2" textLength="55.9" lengthAdjust="spacingAndGlyphs">−1.0</tspan></text>
<text y="898" font-size="26" font-weight="bold"><tspan x="373.2" textLength="55.5" lengthAdjust="spacingAndGlyphs">−0.5</tspan></text>
<text y="898" font-size="26" font-weight="bold"><tspan x="590.1" textLength="38.4" lengthAdjust="spacingAndGlyphs">0.0</tspan></text>
<text y="898" font-size="26" font-weight="bold"><tspan x="800.0" textLength="37.9" lengthAdjust="spacingAndGlyphs">0.5</tspan></text>
<text y="145" font-size="26" font-weight="bold"><tspan x="63.6" textLength="35.9" lengthAdjust="spacingAndGlyphs">1.0</tspan></text>
<text y="310.3" font-size="26" font-weight="bold"><tspan x="60.8" textLength="38.2" lengthAdjust="spacingAndGlyphs">0.5</tspan></text>
<text y="475.6" font-size="26" font-weight="bold"><tspan x="60.8" textLength="38.8" lengthAdjust="spacingAndGlyphs">0.0</tspan></text>
<text y="640.8" font-size="26" font-weight="bold"><tspan x="43.8" textLength="55.5" lengthAdjust="spacingAndGlyphs">−0.5</tspan></text>
<text y="806.1" font-size="26" font-weight="bold"><tspan x="43.8" textLength="56.0" lengthAdjust="spacingAndGlyphs">−1.0</tspan></text>
<text y="926.9" font-size="24" font-weight="bold"><tspan x="404.2" textLength="41.8" lengthAdjust="spacingAndGlyphs">Log</tspan> <tspan x="457.0" textLength="19.8" lengthAdjust="spacingAndGlyphs">([</tspan><tspan x="477.1" textLength="29.3" lengthAdjust="spacingAndGlyphs">NII</tspan><tspan x="507.3" textLength="8.0" lengthAdjust="spacingAndGlyphs">]</tspan><tspan x="515.3" textLength="70.9" lengthAdjust="spacingAndGlyphs">λ6584</tspan><tspan x="589.3" textLength="8.7" lengthAdjust="spacingAndGlyphs">/</tspan><tspan x="602.3" textLength="44.1" lengthAdjust="spacingAndGlyphs">Hα)</tspan></text>
<text y="0" font-size="24" font-weight="bold" transform="translate(23.6 556.4) rotate(-90)"><tspan x="-1.4" textLength="41.7" lengthAdjust="spacingAndGlyphs">Log</tspan> <tspan x="53.0" textLength="18.4" lengthAdjust="spacingAndGlyphs">([</tspan><tspan x="72.0" textLength="35.1" lengthAdjust="spacingAndGlyphs">OIII</tspan><tspan x="108.5" textLength="7.5" lengthAdjust="spacingAndGlyphs">]</tspan><tspan x="117.5" textLength="69.4" lengthAdjust="spacingAndGlyphs">λ5007</tspan><tspan x="191.8" textLength="8.7" lengthAdjust="spacingAndGlyphs">/</tspan><tspan x="204.9" textLength="40.7" lengthAdjust="spacingAndGlyphs">Hβ)</tspan></text>
<text y="70.3" font-size="33" stroke="#000" stroke-width="0.8"><tspan x="428.5" textLength="55.3" lengthAdjust="spacingAndGlyphs">Sy2</tspan></text>
<text y="500.6" font-size="33" stroke="#000" stroke-width="0.8"><tspan x="210.7" textLength="59.6" lengthAdjust="spacingAndGlyphs">SFG</tspan></text>
<text y="501" font-size="33" stroke="#000" stroke-width="0.8"><tspan x="818.8" textLength="85.9" lengthAdjust="spacingAndGlyphs">LINER</tspan></text>
<text y="781.4" font-size="33" stroke="#000" stroke-width="0.8"><tspan x="588.8" textLength="36.8" lengthAdjust="spacingAndGlyphs">TO</tspan></text>
<path d="M127.6 760.7H169.7" stroke="#4f4f4f" stroke-width="4.4" stroke-dasharray="14.2 14"/>
<path d="M127.6 793.5H169.7" stroke="#7b7b7b" stroke-width="4.4"/>
<path d="M127.6 829.8H169.7" stroke="#999" stroke-width="4.4"/>
<text y="764.3" font-size="25.5" stroke="#000" stroke-width="0.3"><tspan x="180.5" textLength="133.7" lengthAdjust="spacingAndGlyphs">Kauffmann</tspan> <tspan x="324.9" textLength="22.8" lengthAdjust="spacingAndGlyphs">et</tspan> <tspan x="361.0" textLength="30.3" lengthAdjust="spacingAndGlyphs">al.</tspan> <tspan x="401.3" textLength="63.4" lengthAdjust="spacingAndGlyphs">2003</tspan></text>
<text y="800.9" font-size="25.5" stroke="#000" stroke-width="0.3"><tspan x="180.8" textLength="79.9" lengthAdjust="spacingAndGlyphs">Kewley</tspan> <tspan x="273.2" textLength="23.1" lengthAdjust="spacingAndGlyphs">et</tspan> <tspan x="308.7" textLength="30.4" lengthAdjust="spacingAndGlyphs">al.</tspan> <tspan x="349.7" textLength="60.0" lengthAdjust="spacingAndGlyphs">2001</tspan></text>
<text y="837" font-size="25.5" stroke="#000" stroke-width="0.3"><tspan x="182.2" textLength="73.2" lengthAdjust="spacingAndGlyphs">Torres</tspan><tspan x="257.5" textLength="17.2" lengthAdjust="spacingAndGlyphs">−</tspan><tspan x="275.2" textLength="97.5" lengthAdjust="spacingAndGlyphs">Papaqui</tspan> <tspan x="384.5" textLength="21.8" lengthAdjust="spacingAndGlyphs">et</tspan> <tspan x="419.9" textLength="28.9" lengthAdjust="spacingAndGlyphs">al.</tspan> <tspan x="460.2" textLength="63.1" lengthAdjust="spacingAndGlyphs">2012</tspan></text>
</g>
<g id="panel-b">
<clipPath id="clipb"><rect x="1155.0" y="3.0" width="838.6" height="859.4"/></clipPath>
<g stroke="#1d9065" fill="none" clip-path="url(#clipb)">
<path d="M1765 202.5h3M1765 203.5h3M1763 204.5h3M1762 205.5h3M1760 206.5h5M1759 207.5h6M1759 208.5h6M1762 209.5h3M1763 210.5h1M1769 210.5h1M1763 211.5h1M1770 211.5h1M1758 212.5h1M1762 212.5h2M1771 212.5h3M1757 213.5h8M1771 213.5h3M1757 214.5h9M1772 214.5h1M1758 215.5h5M1772 215.5h1M1752 216.5h2M1758 216.5h4M1772 216.5h2M1751 217.5h3M1758 217.5h4M1773 217.5h2M1751 218.5h2M1758 218.5h3M1773 218.5h3M1781 218.5h4M1751 219.5h2M1758 219.5h3M1775 219.5h3M1781 219.5h4M1801 219.5h1M1750 220.5h3M1757 220.5h5M1776 220.5h1M1781 220.5h2M1801 220.5h1M1749 221.5h5M1756 221.5h9M1781 221.5h2M1801 221.5h1M1749 222.5h16M1777 222.5h1M1780 222.5h3M1800 222.5h3M1750 223.5h3M1756 223.5h10M1777 223.5h7M1799 223.5h4M1751 224.5h1M1758 224.5h9M1780 224.5h9M1799 224.5h4M1760 225.5h8M1781 225.5h2M1800 225.5h3M1761 226.5h10M1776 226.5h1M1781 226.5h1M1800 226.5h3M1746 227.5h2M1761 227.5h11M1775 227.5h2M1780 227.5h2M1799 227.5h4M1744 228.5h8M1761 228.5h14M1780 228.5h2M1799 228.5h3M1743 229.5h10M1760 229.5h14M1799 229.5h2M1742 230.5h28M1799 230.5h2M1742 231.5h27M1799 231.5h1M1743 232.5h25M1743 233.5h25M1743 234.5h26M1743 235.5h4M1749 235.5h14M1765 235.5h5M1741 236.5h5M1750 236.5h12M1766 236.5h5M1738 237.5h8M1750 237.5h11M1767 237.5h3M1738 238.5h8M1750 238.5h11M1767 238.5h2M1738 239.5h9M1749 239.5h13M1766 239.5h2M1738 240.5h25M1765 240.5h3M1737 241.5h32M1772 241.5h1M1738 242.5h35M1732 243.5h2M1738 243.5h9M1750 243.5h22M1731 244.5h4M1737 244.5h10M1751 244.5h21M1780 244.5h2M1791 244.5h2M1731 245.5h16M1751 245.5h16M1769 245.5h4M1779 245.5h4M1792 245.5h1M1802 245.5h1M1730 246.5h17M1751 246.5h15M1770 246.5h3M1775 246.5h8M1793 246.5h1M1801 246.5h1M1729 247.5h37M1770 247.5h2M1776 247.5h5M1793 247.5h2M1728 248.5h38M1770 248.5h1M1776 248.5h4M1792 248.5h4M1800 248.5h1M1728 249.5h42M1776 249.5h4M1791 249.5h6M1799 249.5h2M1727 250.5h11M1740 250.5h30M1776 250.5h4M1791 250.5h5M1800 250.5h1M1726 251.5h11M1741 251.5h16M1761 251.5h10M1775 251.5h5M1725 252.5h11M1741 252.5h16M1761 252.5h19M1801 252.5h1M1724 253.5h12M1741 253.5h16M1761 253.5h20M1723 254.5h13M1741 254.5h16M1761 254.5h22M1723 255.5h13M1741 255.5h38M1782 255.5h2M1788 255.5h1M1723 256.5h15M1740 256.5h38M1783 256.5h2M1787 256.5h2M1723 257.5h55M1783 257.5h6M1722 258.5h50M1775 258.5h3M1783 258.5h6M1719 259.5h52M1776 259.5h2M1782 259.5h6M1718 260.5h53M1782 260.5h5M1717 261.5h55M1717 262.5h44M1764 262.5h10M1776 262.5h2M1716 263.5h45M1765 263.5h2M1770 263.5h2M1775 263.5h6M1789 263.5h1M1715 264.5h46M1765 264.5h1M1770 264.5h1M1776 264.5h5M1789 264.5h1M1822 264.5h3M1715 265.5h46M1765 265.5h1M1770 265.5h1M1776 265.5h4M1789 265.5h1M1822 265.5h7M1714 266.5h48M1764 266.5h3M1770 266.5h2M1775 266.5h4M1789 266.5h1M1817 266.5h2M1821 266.5h4M1828 266.5h2M1713 267.5h42M1758 267.5h21M1788 267.5h2M1817 267.5h5M1831 267.5h1M1712 268.5h42M1759 268.5h10M1772 268.5h7M1786 268.5h5M1817 268.5h4M1711 269.5h43M1759 269.5h8M1774 269.5h6M1785 269.5h8M1817 269.5h1M1711 270.5h44M1758 270.5h7M1775 270.5h6M1783 270.5h10M1816 270.5h1M1710 271.5h55M1775 271.5h5M1783 271.5h10M1816 271.5h1M1709 272.5h55M1775 272.5h4M1784 272.5h9M1816 272.5h1M1708 273.5h56M1768 273.5h1M1776 273.5h3M1788 273.5h3M1815 273.5h2M1707 274.5h57M1767 274.5h3M1777 274.5h3M1814 274.5h1M1707 275.5h64M1777 275.5h3M1813 275.5h1M1706 276.5h67M1776 276.5h4M1705 277.5h42M1750 277.5h31M1790 277.5h1M1705 278.5h41M1751 278.5h32M1789 278.5h2M1704 279.5h42M1751 279.5h39M1703 280.5h43M1751 280.5h31M1785 280.5h4M1702 281.5h45M1750 281.5h31M1787 281.5h2M1702 282.5h79M1788 282.5h1M1701 283.5h80M1788 283.5h2M1700 284.5h82M1788 284.5h2M1699 285.5h83M1788 285.5h3M1699 286.5h83M1788 286.5h3M1698 287.5h78M1779 287.5h4M1787 287.5h3M1697 288.5h78M1781 288.5h9M1807 288.5h1M1696 289.5h79M1782 289.5h9M1806 289.5h2M1695 290.5h79M1782 290.5h9M1805 290.5h2M1694 291.5h80M1785 291.5h2M1805 291.5h2M1694 292.5h81M1805 292.5h2M1810 292.5h4M1693 293.5h84M1805 293.5h9M1692 294.5h86M1804 294.5h10M1691 295.5h87M1802 295.5h8M1690 296.5h83M1776 296.5h4M1786 296.5h2M1802 296.5h7M1690 297.5h82M1777 297.5h4M1785 297.5h3M1802 297.5h6M1689 298.5h83M1777 298.5h11M1806 298.5h1M1688 299.5h84M1777 299.5h11M1806 299.5h1M1688 300.5h85M1776 300.5h12M1806 300.5h2M1687 301.5h104M1805 301.5h3M1687 302.5h97M1788 302.5h4M1804 302.5h4M1686 303.5h98M1789 303.5h3M1806 303.5h2M1685 304.5h99M1789 304.5h4M1807 304.5h2M1684 305.5h100M1789 305.5h4M1807 305.5h4M1683 306.5h102M1808 306.5h2M1682 307.5h103M1795 307.5h2M1808 307.5h2M1681 308.5h105M1795 308.5h8M1808 308.5h2M1680 309.5h107M1799 309.5h3M1807 309.5h3M1680 310.5h107M1800 310.5h1M1807 310.5h3M1679 311.5h109M1791 311.5h1M1800 311.5h1M1807 311.5h4M1678 312.5h105M1785 312.5h5M1800 312.5h2M1806 312.5h6M1678 313.5h104M1786 313.5h3M1800 313.5h3M1805 313.5h7M1677 314.5h105M1786 314.5h3M1800 314.5h8M1811 314.5h2M1676 315.5h106M1785 315.5h4M1795 315.5h2M1800 315.5h2M1806 315.5h1M1814 315.5h1M1825 315.5h1M1675 316.5h115M1794 316.5h2M1800 316.5h1M1815 316.5h1M1825 316.5h2M1675 317.5h116M1793 317.5h2M1800 317.5h1M1824 317.5h4M1674 318.5h121M1800 318.5h1M1823 318.5h5M1673 319.5h99M1774 319.5h22M1799 319.5h2M1822 319.5h3M1672 320.5h99M1775 320.5h25M1812 320.5h1M1822 320.5h2M1829 320.5h2M1671 321.5h100M1776 321.5h23M1811 321.5h5M1822 321.5h1M1671 322.5h100M1776 322.5h23M1810 322.5h7M1822 322.5h1M1670 323.5h102M1776 323.5h23M1811 323.5h7M1822 323.5h1M1669 324.5h103M1775 324.5h24M1811 324.5h8M1821 324.5h2M1668 325.5h123M1796 325.5h4M1810 325.5h6M1820 325.5h2M1667 326.5h123M1797 326.5h8M1810 326.5h6M1821 326.5h1M1667 327.5h123M1797 327.5h18M1666 328.5h124M1796 328.5h16M1822 328.5h1M1665 329.5h126M1795 329.5h5M1804 329.5h1M1808 329.5h3M1822 329.5h1M1665 330.5h116M1784 330.5h8M1794 330.5h5M1810 330.5h1M1664 331.5h117M1785 331.5h14M1810 331.5h2M1663 332.5h118M1785 332.5h14M1662 333.5h119M1784 333.5h16M1818 333.5h1M1661 334.5h140M1817 334.5h2M1660 335.5h141M1816 335.5h3M1660 336.5h141M1815 336.5h4M1659 337.5h142M1814 337.5h6M1658 338.5h134M1796 338.5h4M1814 338.5h6M1658 339.5h134M1796 339.5h3M1810 339.5h1M1815 339.5h5M1657 340.5h118M1777 340.5h15M1804 340.5h2M1808 340.5h2M1815 340.5h5M1656 341.5h118M1778 341.5h14M1804 341.5h1M1807 341.5h2M1815 341.5h6M1655 342.5h119M1778 342.5h6M1787 342.5h6M1803 342.5h1M1808 342.5h1M1815 342.5h7M1827 342.5h2M1654 343.5h121M1778 343.5h5M1788 343.5h7M1802 343.5h2M1808 343.5h1M1819 343.5h4M1826 343.5h2M1654 344.5h128M1788 344.5h8M1801 344.5h3M1807 344.5h3M1824 344.5h2M1653 345.5h129M1788 345.5h10M1801 345.5h9M1652 346.5h130M1788 346.5h10M1802 346.5h8M1651 347.5h132M1787 347.5h10M1802 347.5h4M1808 347.5h2M1650 348.5h147M1803 348.5h2M1815 348.5h1M1650 349.5h147M1804 349.5h1M1815 349.5h1M1649 350.5h148M1804 350.5h1M1816 350.5h1M1820 350.5h2M1648 351.5h148M1803 351.5h2M1816 351.5h5M1824 351.5h1M1648 352.5h147M1802 352.5h3M1816 352.5h4M1647 353.5h146M1801 353.5h5M1816 353.5h4M1646 354.5h146M1800 354.5h6M1817 354.5h3M1645 355.5h147M1799 355.5h2M1803 355.5h3M1808 355.5h3M1819 355.5h1M1645 356.5h148M1797 356.5h2M1804 356.5h1M1809 356.5h2M1819 356.5h1M1644 357.5h139M1786 357.5h7M1644 358.5h139M1787 358.5h6M1803 358.5h1M1642 359.5h141M1787 359.5h6M1803 359.5h2M1820 359.5h1M1641 360.5h143M1786 360.5h8M1803 360.5h2M1820 360.5h5M1641 361.5h158M1802 361.5h4M1822 361.5h3M1640 362.5h169M1822 362.5h3M1639 363.5h173M1822 363.5h4M1638 364.5h175M1821 364.5h11M1637 365.5h176M1821 365.5h5M1830 365.5h4M1637 366.5h177M1820 366.5h6M1833 366.5h1M1636 367.5h168M1809 367.5h17M1635 368.5h168M1810 368.5h17M1635 369.5h168M1810 369.5h17M1635 370.5h164M1810 370.5h8M1821 370.5h3M1633 371.5h165M1810 371.5h7M1822 371.5h1M1632 372.5h166M1810 372.5h6M1822 372.5h1M1631 373.5h168M1801 373.5h1M1805 373.5h2M1809 373.5h6M1823 373.5h1M1630 374.5h185M1825 374.5h1M1630 375.5h182M1814 375.5h2M1826 375.5h1M1629 376.5h182M1815 376.5h1M1826 376.5h1M1628 377.5h183M1826 377.5h1M1628 378.5h156M1786 378.5h25M1826 378.5h1M1627 379.5h156M1787 379.5h24M1627 380.5h156M1787 380.5h22M1625 381.5h159M1787 381.5h21M1820 381.5h2M1624 382.5h167M1795 382.5h13M1819 382.5h5M1624 383.5h165M1796 383.5h12M1813 383.5h7M1823 383.5h5M1831 383.5h1M1623 384.5h165M1796 384.5h13M1812 384.5h7M1825 384.5h7M1622 385.5h166M1796 385.5h16M1815 385.5h3M1621 386.5h167M1795 386.5h16M1816 386.5h2M1620 387.5h168M1795 387.5h16M1620 388.5h169M1796 388.5h14M1619 389.5h170M1796 389.5h14M1618 390.5h175M1797 390.5h14M1618 391.5h174M1797 391.5h18M1617 392.5h175M1797 392.5h15M1814 392.5h2M1616 393.5h177M1796 393.5h4M1802 393.5h9M1815 393.5h1M1615 394.5h184M1803 394.5h7M1614 395.5h184M1803 395.5h7M1614 396.5h183M1803 396.5h8M1613 397.5h184M1803 397.5h9M1612 398.5h185M1803 398.5h10M1612 399.5h186M1803 399.5h11M1828 399.5h2M1611 400.5h187M1803 400.5h8M1828 400.5h3M1610 401.5h188M1803 401.5h7M1827 401.5h6M1609 402.5h189M1803 402.5h7M1827 402.5h5M1608 403.5h191M1803 403.5h8M1828 403.5h4M1608 404.5h192M1802 404.5h9M1818 404.5h1M1828 404.5h3M1607 405.5h196M1805 405.5h7M1818 405.5h4M1827 405.5h2M1607 406.5h195M1806 406.5h7M1819 406.5h4M1826 406.5h2M1606 407.5h196M1806 407.5h8M1819 407.5h8M1605 408.5h198M1806 408.5h8M1824 408.5h2M1605 409.5h209M1605 410.5h208M1605 411.5h175M1783 411.5h29M1606 412.5h174M1784 412.5h28M1607 413.5h173M1784 413.5h16M1802 413.5h10M1608 414.5h173M1783 414.5h16M1803 414.5h9M1609 415.5h190M1803 415.5h1M1807 415.5h7M1609 416.5h190M1809 416.5h7M1610 417.5h190M1802 417.5h1M1810 417.5h6M1611 418.5h193M1811 418.5h4M1611 419.5h194M1811 419.5h4M1611 420.5h196M1811 420.5h4M1612 421.5h196M1811 421.5h1M1814 421.5h2M1831 421.5h1M1613 422.5h198M1815 422.5h2M1830 422.5h2M1613 423.5h176M1791 423.5h12M1806 423.5h5M1815 423.5h3M1829 423.5h3M1614 424.5h173M1792 424.5h10M1807 424.5h5M1815 424.5h4M1826 424.5h6M1615 425.5h172M1792 425.5h10M1807 425.5h13M1825 425.5h7M1615 426.5h172M1791 426.5h12M1806 426.5h15M1823 426.5h2M1829 426.5h3M1616 427.5h172M1790 427.5h6M1798 427.5h23M1829 427.5h2M1617 428.5h178M1799 428.5h21M1829 428.5h2M1618 429.5h177M1800 429.5h17M1829 429.5h1M1618 430.5h177M1800 430.5h16M1828 430.5h1M1619 431.5h176M1799 431.5h16M1826 431.5h2M1620 432.5h176M1798 432.5h13M1813 432.5h2M1823 432.5h5M1620 433.5h190M1814 433.5h2M1823 433.5h4M1621 434.5h189M1814 434.5h2M1824 434.5h3M1622 435.5h170M1794 435.5h16M1813 435.5h3M1826 435.5h2M1623 436.5h168M1795 436.5h1M1798 436.5h10M1813 436.5h3M1623 437.5h168M1799 437.5h8M1814 437.5h2M1624 438.5h168M1799 438.5h8M1816 438.5h1M1625 439.5h170M1798 439.5h9M1817 439.5h1M1625 440.5h171M1800 440.5h8M1817 440.5h1M1626 441.5h170M1801 441.5h8M1816 441.5h3M1825 441.5h2M1626 442.5h170M1801 442.5h9M1815 442.5h12M1627 443.5h169M1800 443.5h11M1814 443.5h2M1820 443.5h8M1627 444.5h188M1827 444.5h2M1628 445.5h181M1814 445.5h1M1628 446.5h180M1814 446.5h1M1629 447.5h177M1814 447.5h2M1818 447.5h2M1630 448.5h175M1818 448.5h2M1630 449.5h174M1819 449.5h1M1631 450.5h173M1810 450.5h2M1819 450.5h1M1632 451.5h172M1810 451.5h3M1819 451.5h2M1825 451.5h2M1632 452.5h172M1809 452.5h4M1818 452.5h4M1824 452.5h2M1633 453.5h171M1807 453.5h6M1818 453.5h2M1634 454.5h169M1807 454.5h5M1817 454.5h2M1634 455.5h169M1807 455.5h5M1817 455.5h1M1635 456.5h160M1798 456.5h5M1807 456.5h5M1635 457.5h159M1801 457.5h2M1808 457.5h1M1635 458.5h158M1802 458.5h1M1808 458.5h1M1636 459.5h156M1802 459.5h2M1807 459.5h2M1637 460.5h155M1802 460.5h7M1637 461.5h156M1802 461.5h4M1638 462.5h156M1802 462.5h4M1639 463.5h155M1802 463.5h4M1814 463.5h2M1639 464.5h155M1801 464.5h6M1809 464.5h2M1814 464.5h2M1639 465.5h156M1800 465.5h2M1805 465.5h9M1816 465.5h1M1640 466.5h157M1799 466.5h3M1806 466.5h2M1812 466.5h1M1817 466.5h2M1641 467.5h160M1818 467.5h2M1641 468.5h160M1818 468.5h3M1642 469.5h159M1819 469.5h2M1827 469.5h1M1642 470.5h139M1785 470.5h17M1819 470.5h3M1826 470.5h2M1643 471.5h138M1786 471.5h16M1823 471.5h5M1643 472.5h138M1786 472.5h17M1824 472.5h5M1643 473.5h139M1786 473.5h12M1801 473.5h2M1824 473.5h2M1830 473.5h1M1644 474.5h138M1787 474.5h4M1824 474.5h1M1645 475.5h114M1762 475.5h20M1788 475.5h2M1824 475.5h1M1645 476.5h113M1762 476.5h20M1788 476.5h2M1812 476.5h1M1824 476.5h1M1646 477.5h112M1762 477.5h6M1772 477.5h11M1787 477.5h3M1821 477.5h4M1646 478.5h113M1762 478.5h6M1773 478.5h5M1782 478.5h1M1787 478.5h3M1800 478.5h1M1824 478.5h2M1647 479.5h120M1773 479.5h4M1782 479.5h2M1786 479.5h4M1801 479.5h5M1813 479.5h1M1648 480.5h119M1773 480.5h3M1783 480.5h8M1801 480.5h6M1812 480.5h2M1648 481.5h120M1773 481.5h3M1783 481.5h12M1801 481.5h9M1813 481.5h1M1648 482.5h121M1773 482.5h4M1782 482.5h10M1800 482.5h9M1649 483.5h121M1772 483.5h6M1781 483.5h10M1800 483.5h8M1814 483.5h1M1649 484.5h141M1800 484.5h3M1805 484.5h3M1813 484.5h2M1650 485.5h140M1799 485.5h3M1807 485.5h1M1813 485.5h2M1651 486.5h140M1798 486.5h2M1808 486.5h1M1813 486.5h3M1651 487.5h138M1808 487.5h11M1652 488.5h126M1781 488.5h7M1808 488.5h11M1652 489.5h125M1783 489.5h5M1808 489.5h1M1652 490.5h125M1784 490.5h3M1807 490.5h1M1653 491.5h124M1653 492.5h125M1654 493.5h128M1654 494.5h128M1791 494.5h2M1654 495.5h123M1780 495.5h3M1790 495.5h2M1655 496.5h121M1780 496.5h5M1787 496.5h4M1655 497.5h120M1781 497.5h10M1656 498.5h118M1781 498.5h10M1657 499.5h105M1764 499.5h10M1781 499.5h10M1657 500.5h104M1765 500.5h9M1780 500.5h12M1658 501.5h102M1765 501.5h4M1779 501.5h9M1790 501.5h2M1658 502.5h102M1766 502.5h2M1777 502.5h6M1791 502.5h2M1659 503.5h101M1778 503.5h5M1792 503.5h1M1659 504.5h102M1780 504.5h2M1659 505.5h103M1780 505.5h2M1659 506.5h75M1737 506.5h27M1780 506.5h2M1660 507.5h74M1738 507.5h26M1779 507.5h3M1660 508.5h74M1738 508.5h25M1778 508.5h3M1661 509.5h73M1738 509.5h13M1754 509.5h9M1779 509.5h2M1661 510.5h74M1737 510.5h13M1755 510.5h8M1768 510.5h1M1780 510.5h1M1662 511.5h88M1755 511.5h8M1768 511.5h1M1780 511.5h1M1663 512.5h87M1754 512.5h10M1767 512.5h2M1780 512.5h1M1663 513.5h78M1743 513.5h26M1663 514.5h77M1744 514.5h5M1752 514.5h15M1769 514.5h1M1779 514.5h1M1664 515.5h70M1736 515.5h4M1744 515.5h4M1753 515.5h13M1770 515.5h4M1779 515.5h1M1664 516.5h69M1737 516.5h3M1744 516.5h2M1753 516.5h7M1762 516.5h4M1771 516.5h3M1778 516.5h2M1665 517.5h68M1737 517.5h4M1743 517.5h2M1753 517.5h6M1763 517.5h2M1772 517.5h7M1665 518.5h68M1736 518.5h9M1752 518.5h7M1763 518.5h2M1773 518.5h2M1777 518.5h2M1666 519.5h79M1751 519.5h8M1762 519.5h2M1773 519.5h1M1778 519.5h2M1784 519.5h1M1666 520.5h80M1751 520.5h13M1779 520.5h2M1783 520.5h2M1667 521.5h73M1742 521.5h5M1752 521.5h13M1780 521.5h5M1667 522.5h72M1743 522.5h4M1752 522.5h10M1764 522.5h2M1781 522.5h4M1667 523.5h71M1743 523.5h3M1752 523.5h8M1766 523.5h1M1781 523.5h3M1668 524.5h70M1744 524.5h1M1751 524.5h8M1767 524.5h2M1781 524.5h2M1668 525.5h71M1744 525.5h1M1750 525.5h7M1768 525.5h2M1781 525.5h1M1669 526.5h70M1743 526.5h3M1749 526.5h2M1754 526.5h2M1768 526.5h1M1780 526.5h1M1669 527.5h71M1742 527.5h8M1779 527.5h1M1669 528.5h81M1779 528.5h1M1670 529.5h79M1670 530.5h79M1670 531.5h70M1743 531.5h5M1670 532.5h47M1719 532.5h20M1744 532.5h4M1671 533.5h45M1720 533.5h19M1745 533.5h2M1766 533.5h2M1671 534.5h45M1721 534.5h18M1745 534.5h2M1767 534.5h2M1772 534.5h2M1672 535.5h45M1721 535.5h19M1745 535.5h2M1768 535.5h6M1672 536.5h45M1721 536.5h19M1744 536.5h2M1771 536.5h2M1673 537.5h45M1720 537.5h19M1772 537.5h1M1673 538.5h64M1772 538.5h2M1674 539.5h46M1722 539.5h15M1772 539.5h4M1675 540.5h44M1723 540.5h13M1772 540.5h5M1675 541.5h44M1723 541.5h5M1730 541.5h5M1774 541.5h4M1674 542.5h45M1723 542.5h4M1731 542.5h3M1743 542.5h2M1675 543.5h48M1726 543.5h1M1731 543.5h3M1742 543.5h4M1676 544.5h42M1720 544.5h2M1731 544.5h4M1741 544.5h2M1745 544.5h3M1677 545.5h40M1728 545.5h8M1740 545.5h2M1746 545.5h3M1678 546.5h39M1728 546.5h9M1739 546.5h2M1746 546.5h3M1678 547.5h34M1714 547.5h2M1727 547.5h3M1732 547.5h9M1746 547.5h4M1678 548.5h33M1727 548.5h2M1733 548.5h9M1749 548.5h4M1678 549.5h32M1726 549.5h2M1733 549.5h9M1678 550.5h31M1725 550.5h3M1733 550.5h8M1679 551.5h29M1719 551.5h6M1733 551.5h1M1736 551.5h3M1680 552.5h23M1706 552.5h2M1720 552.5h4M1737 552.5h2M1680 553.5h23M1707 553.5h1M1721 553.5h3M1737 553.5h2M1680 554.5h23M1707 554.5h1M1722 554.5h2M1680 555.5h23M1706 555.5h2M1680 556.5h29M1681 557.5h31M1681 558.5h30M1681 559.5h28M1681 560.5h11M1696 560.5h7M1730 560.5h2M1682 561.5h9M1700 561.5h2M1729 561.5h3M1737 561.5h2M1683 562.5h8M1701 562.5h1M1729 562.5h4M1735 562.5h2M1683 563.5h8M1701 563.5h1M1729 563.5h7M1683 564.5h1M1686 564.5h5M1700 564.5h2M1729 564.5h7M1691 565.5h1M1700 565.5h1M1728 565.5h7M1692 566.5h2M1698 566.5h2M1722 566.5h2M1727 566.5h8M1692 567.5h5M1727 567.5h7M1688 568.5h1M1691 568.5h4M1728 568.5h4M1688 569.5h7M1728 569.5h4M1688 570.5h7M1728 570.5h4M1688 571.5h7M1730 571.5h2M1688 572.5h6M1698 572.5h6M1689 573.5h5M1698 573.5h6M1690 574.5h4M1697 574.5h7M1690 575.5h4M1698 575.5h7M1690 576.5h2M1703 576.5h3M1696 579.5h1M1695 580.5h2M1690 581.5h2M1694 581.5h2M1691 582.5h5M1692 583.5h5M1692 584.5h6M1691 585.5h7M1691 586.5h4" stroke-width="1.3"/>
<path d="M1937.3 54h0m-109.2 77h0m-3.9 9.1h0m-7.4 4.7h0m37.1 1.6h0m24-2.2h0m-57.1 3h0m107.1 2.2h0m-115.4 9.5h0m14.7-5.5h0m-27.2 15.3h0m13.5 0h0m6.9-1.4h0m3.8 3.7h0m3.5-5.3h0m2.4 .6h0m6.6 .8h0m-32.8 7.5h0m29.2 1.2h0m-47.9 1.2h0m7.7 .2h0m1.4 2.6h0m54.1-1.2h0m49-1.4h0m-111 10.1h0m85.4-3.8h0m7.7 4.4h0m-105.4 2.2h0m1.2 2.6h0m3.8-.3h0m21.3 2h0m-30.3 2.1h0m4.3 2.1h0m3.8-2.2h0m31.7 .4h0m20.7 3.8h0m15-.6h0m-82.2 5.1h0m.4 1.4h0m2.5-4h0m1.1 .5h0m15.6 2.1h0m1.6 1.6h0m4.7-1h0m6.2-.2h0m3.5-1.7h0m6.9 1.7h0m44.9-2h0m21 .3h0m-111.9 4.6h0m.5-1.2h0m2.1 1h0m.7 3.6h0m.9-3.8h0m.4 1.5h0m4.7 .6h0m4.2 2.4h0m3.8-3.1h0m5.6 .5h0m1.3 2.9h0m3 .2h0m13.1-1.3h0m111.4-1.9h0m-159.3 7.6h0m1.1-.6h0m4.3-3.1h0m.5-.7h0m.7 2.8h0m1.4 1.5h0m1.3-1.2h0m3.4-1.3h0m7.5-.9h0m.8 2.7h0m0 2.1h0m1-1.3h0m4.3-3.5h0m4.2 4.5h0m1.8 .4h0m7.5-.2h0m.2-.1h0m.3-5.4h0m8.1 2.2h0m58-.8h0m8.8 3.2h0m-117.4 3.7h0m.1 1.1h0m1.3-.1h0m0 1.7h0m.4-4.6h0m2.2 2.6h0m1.9 .6h0m2-3h0m0 4.1h0m1.7-4.6h0m1.1 3.3h0m1.2-1.1h0m2.8 0h0m11.8-1.5h0m1.3 3.2h0m3.9-4.1h0m.2 3h0m.1 2h0m3.5 .2h0m2.2-.1h0m6.1-3.4h0m5.4 2.9h0m2.7-3.3h0m1 3.5h0m3.8-4.2h0m7.2 0h0m.9 4h0m2.3 1.1h0m40.9-3.9h0m54.6 2.2h0m-168.5 6.2h0m2.8-1.9h0m4.3 1.6h0m4.9 1.2h0m4.8 .3h0m.2-4.7h0m.8 4.4h0m3.8-3.8h0m.9-1.3h0m2.1 5.9h0m.4-1.3h0m1-3h0m3.2 2.5h0m3-2h0m4.8-.4h0m0 1.8h0m6.7 1.2h0m4.8-4.7h0m7.1 3.5h0m2.6-.9h0m49.7 2.1h0m-109.3 1.4h0m1.1 5.7h0m.1-4h0m2.3 2.3h0m3.9 .1h0m2.7-3.7h0m7.4 .1h0m.4 5.1h0m1-1h0m2.4-1.5h0m2.8 1.5h0m1.6-.1h0m.8 .2h0m1 .9h0m5.7-1.5h0m.5-1.5h0m.8 1.8h0m6.1-.7h0m2.7 .1h0m1.5 1.2h0m.1-2.8h0m11.9-2.2h0m13.1 2.9h0m2.3-2h0m6.4 4.2h0m17.8-.8h0m-101.1 5.4h0m.1 .8h0m.3-4h0m2.9-.3h0m3.1 1.2h0m1.2 0h0m.9 4.3h0m4.1-3.6h0m.1 2.9h0m0 .5h0m11.8-1.3h0m4.9-1.4h0m.7-2.3h0m2.2 5h0m1.9-.2h0m2.1-4.3h0m7.4-.3h0m5.6 .7h0m16.1 3h0m8.3-3.5h0m7.9 4.9h0m32.2-4.1h0m-122.5 9.1h0m.9-.7h0m2.2-3h0m.6-.7h0m1.8 1.6h0m4.1-.2h0m6.7 .1h0m4.7 3h0m15-2.1h0m3.7-1.3h0m.8 .3h0m1.3 2.3h0m.5-1.9h0m4.8 1h0m.1 1.4h0m3.5-2.9h0m2.2 .2h0m.7 .8h0m8.9-1.6h0m2 3.3h0m.9 .6h0m7.5-2.5h0m6.4 2.1h0m-84.5 6.9h0m1-.8h0m1.3-2.7h0m.3 2.8h0m.5-2.7h0m6.7 3.2h0m.6-1.3h0m0-2h0m1.6-.4h0m1.1-1h0m3-.2h0m1.3 4.1h0m.6-2h0m13.3 1.1h0m3.5-3h0m3.2 2.9h0m4.8-2.3h0m2.5-.4h0m1.2 2.9h0m3.3-.3h0m2.5-1.9h0m2.4 4.4h0m.8-5h0m.2 3.3h0m2.2 1.3h0m8.9-4.2h0m1.3-.3h0m2.7 .4h0m4.9-1.3h0m1.7 3.6h0m4.5-3.4h0m11.1 1.3h0m8.7-.9h0m7.3 2.1h0m31.8 .4h0m39.7 0h0m-185.5 7.9h0m3.1-1.1h0m1-3.2h0m.5 2.9h0m12.8-1.4h0m.2-.5h0m5.2-1h0m13.6 .3h0m3.7 .2h0m11.4 1.9h0m4.5-.7h0m1.9 1.3h0m.5-2.5h0m4.6 4.1h0m1.9-3.9h0m.3 4.4h0m2.2-.9h0m.8-2.6h0m1.4-1.8h0m0 2.3h0m8.6 .8h0m4.2-.4h0m5.9 0h0m3.5 .3h0m2.8-3h0m20.7 2.9h0m18.2 1.6h0m10.9-1.6h0m-147.3 5.5h0m1.9-2.8h0m37 4.9h0m.1 .3h0m.9-1.6h0m3.3-.5h0m.1-2h0m1.1 3.5h0m.9-4.7h0m4 2.7h0m3.6-1.5h0m2.8 0h0m3.8 .7h0m.7 3.6h0m.2-4.1h0m2.3 1.8h0m1.4-.3h0m8.6 2.6h0m.5-2.5h0m4.7-2.9h0m1.9 2.3h0m5.5-.9h0m6.5 .9h0m2.8 .1h0m6.7 3h0m5.2-2h0m1.3 1.8h0m1-1.4h0m3.1 .6h0m15-2.2h0m-131.6 7h0m1.1-1.5h0m1.7-1.9h0m.9 .9h0m37.3 .2h0m.7 2.1h0m.8 1.9h0m2.6 0h0m.7 .4h0m1.9-5.5h0m.1 1.2h0m2.9-.6h0m2 2.4h0m0 .9h0m1-1.7h0m1.3-.4h0m2.8-1.1h0m1.4-.6h0m1.3 .8h0m3 3.7h0m1.1 .2h0m1.8 1h0m1.1-1.9h0m.6-1.2h0m4.5 1.7h0m.3-1.3h0m1.5 2.8h0m.4-3.9h0m3.4 1.1h0m1.2-.6h0m.4 1.3h0m.5 .8h0m.7-1.9h0m.1 2h0m5.9-4.5h0m5.6 3.2h0m1.8-3.2h0m4.5 1.6h0m5.9 1.8h0m2.7-2.3h0m1.7-1.2h0m2.6 4.6h0m8.5-4h0m27.4 3.9h0m1.3-.6h0m2.5-.7h0m-157.7 8.6h0m1.9-2.6h0m.8-1h0m.2-.9h0m.1 2.2h0m1-3.7h0m.5 .5h0m.1 .9h0m.1-1h0m34.7 5.1h0m3.1-2.1h0m.5-1.1h0m1.7 .8h0m1.1 1.3h0m1.3 .8h0m11.2-3h0m2.2 2.1h0m1.9-.6h0m1.2-2.9h0m.1 3h0m2.1 .1h0m0-.7h0m1 1h0m3.1 1.8h0m1.4-1.8h0m.3-3.3h0m1.2 1.7h0m1.3-.6h0m10.5-1.4h0m.6 4.5h0m10.2-2.3h0m.3 .4h0m12.4-.7h0m3.1-2.4h0m13.3 4.9h0m7.6-3.6h0m44.7 1.8h0m-180.5 8.2h0m1.4-2.9h0m.1 .8h0m1.4-1.7h0m40.1 1.8h0m.4-2.7h0m.5 3.5h0m3.7-.2h0m2.8-2.6h0m24.3 4.6h0m3.3-4.4h0m2.2 4.3h0m1.1-5.7h0m2.4 .6h0m2.7 .1h0m.5 2.9h0m9.6-.4h0m.9-1.9h0m1.7 1.1h0m2.8 1.7h0m8.1-.2h0m.8-1.2h0m1.6 1.1h0m.8-1.7h0m3.5 .4h0m.5 1h0m40.7-1.6h0m7 .2h0m2.7 1.4h0m.5-2.3h0m-171.6 7.5h0m.4 1.3h0m1-2h0m.7-2.1h0m.1 1.1h0m71.7 3.9h0m2.3-.9h0m3.6-2.8h0m1.6 1h0m2.5 .2h0m.7 2.9h0m.2-.7h0m2.5-.4h0m2.3-.8h0m0-.8h0m.7-2.5h0m.6 3.8h0m.4-3.8h0m.9 4.7h0m.5-4.2h0m6.4 4.1h0m10.7-1.4h0m35.9 1.5h0m2.4-4.7h0m30.3 1.3h0m-185.5 9.4h0m.5 .5h0m.4-1.5h0m.6 .6h0m.9-1.2h0m.4-.2h0m1.2 .2h0m.3-3.2h0m76.3 5.5h0m2.8-3h0m2.3 .4h0m8.8-2.8h0m.4 .2h0m1.1 4.8h0m8-1.1h0m1-1.4h0m.1 2h0m6.5-.2h0m2.5-4.4h0m.5 1.4h0m2.3 1.5h0m.4 2.5h0m1.9-1.8h0m.7-2.2h0m1.7 .2h0m.6 1.5h0m.3-2.1h0m6.4-.5h0m5.1 4.3h0m.3-3.1h0m.8 1.9h0m1.6-3.7h0m6.6 3.4h0m29.5 2.1h0m34-2.2h0m83.7-1.7h0m-294.4 10.3h0m.6 0h0m.7-2.6h0m.5-.8h0m0 2.9h0m1.1-4.2h0m81.3 1.6h0m1.7 1.6h0m1.9 .4h0m2.3-4.9h0m.3 4.7h0m2.5-4.3h0m4.6 1h0m.1 2.8h0m1.9-2.4h0m1.3 2.8h0m2.6-.1h0m5.5-3.9h0m2 2.3h0m4.4-2.2h0m1.6 5.2h0m2-5.3h0m1 4.3h0m4.8-1.4h0m7.5 1.3h0m7.5-1.3h0m.3 .5h0m1.2 0h0m1.5-.4h0m7.5-2.5h0m6.1-.6h0m3 2.9h0m90.6 1.3h0m-254.5 6.8h0m.9-1.2h0m.8-1.1h0m.8-.3h0m.8-1.5h0m1.2 .8h0m96.3-.5h0m.4 1.5h0m.7 1.5h0m5.3-1.8h0m2.4-1.3h0m3.6 2.9h0m.3 .2h0m.9 1.2h0m.3 0h0m3.2-.8h0m1.7 .4h0m6.1-2.7h0m.3 .2h0m.4 2.7h0m1.7-3.6h0m10.5-.4h0m.3-.2h0m4.4 2.7h0m1.3 1.6h0m5.1-2.9h0m6.5-.3h0m20.2 2.9h0m31-.6h0m17.7-2.1h0m-229.7 8.1h0m.1 .8h0m.5-1.2h0m1.1-1.1h0m1.4-3.4h0m.4 1.3h0m0 1.5h0m.4-.5h0m100 1.2h0m3.2-2.4h0m.8-.9h0m.1 2.9h0m.7-1.2h0m.6 2.3h0m4.4-1.6h0m9 1.4h0m2 1h0m3.3-.4h0m1.6-3.9h0m2.9 2h0m1.1 2.6h0m7.1-1.8h0m8.2-2.9h0m7.6 3.7h0m1.9-.9h0m.9-1.4h0m1.2 2.3h0m1.6 .3h0m42.4-2.2h0m21.8-1.9h0m-230.7 11.2h0m.9-1.6h0m1.1-1.9h0m0 1.7h0m.8-2.6h0m1.2-1.1h0m1.8-.1h0m90.7 4h0m3.5-.2h0m3 1h0m5.1-3.3h0m3.2 .2h0m4.6 0h0m.5 2h0m.3 .5h0m3-1.2h0m.4 1.1h0m1.3-2.2h0m.5-1.8h0m.3 5.1h0m4.3-3.9h0m.1 3.1h0m.6-.6h0m6.1-3.9h0m5.3 5.9h0m2.9-4.6h0m7.8 3.1h0m1.4-.8h0m1.6-2.8h0m1.6 1.8h0m2.9 3.1h0m6.6-1.9h0m2.3-3.1h0m15.1 1.9h0m-186.3 9h0m.2-.5h0m1.2-.3h0m.3 0h0m.5-.6h0m1-2.3h0m.5 .1h0m0 .2h0m.2-2.1h0m97.8 1.1h0m1.3 2h0m5 .3h0m.1-3.1h0m12.9 4.9h0m2.9-2h0m3.2-.2h0m3-1.7h0m1.5 4h0m4.4 .2h0m6.5-4.2h0m.5 2.8h0m1.3 1.3h0m2.8-5.5h0m2.5 2.9h0m3.1 1.8h0m2-2h0m.2-2.5h0m13.1 5.7h0m49.7-5.2h0m20.8 4.1h0m-242.5 6.3h0m1.4-1.3h0m.6-1.7h0m.1 1.4h0m1.1-2.1h0m1.2-.7h0m111.8 3.3h0m1.3-2.9h0m4 4h0m.1-1.9h0m5.7 .6h0m4.4-.9h0m.9-.9h0m2.1 1.4h0m.7-1.5h0m3.2-1.8h0m1.5 .5h0m.2 1.4h0m.2-.4h0m2.4-1h0m2.1 1.4h0m.6-.6h0m.7 .1h0m.8 3.5h0m.1-4.8h0m3.6-.2h0m7.9 2.2h0m6.7 2.6h0m12.4-4.8h0m17.3 1h0m1.7 2.9h0m47.8-2.4h0m-249.3 9.5h0m.6-.6h0m1.4-2.3h0m.2 .1h0m1.1 0h0m.8-2.1h0m.1 .8h0m.2-.4h0m111.7 5.3h0m4.5-5.5h0m3.8 2h0m7.9 2.2h0m1.6-.7h0m3.6 2h0m2.8-4.7h0m.5 3.5h0m.4-2.3h0m13.9 2.6h0m1.8-2.1h0m1.9-2.1h0m1.4 3.8h0m5.8-1.3h0m5.7-2.1h0m5.9-.8h0m12.7 .8h0m6.1 .1h0m12.4 1.2h0m31-1.8h0m-244.1 11h0m.1-1.1h0m1.5-1.1h0m.1 .6h0m.7-.4h0m.6-2.7h0m.7 1.8h0m.1-2.3h0m.4-.3h0m113.3 5h0m1.1-3h0m5.2 .4h0m3.1 2h0m2.4-1.6h0m4 1.2h0m2.6-2h0m1.4 3h0m1.9-.3h0m3.7-4.3h0m3.8 5.1h0m.7-.8h0m.4-.6h0m2-2.5h0m3.1 .7h0m.7 2.2h0m1.9-4.4h0m5.3 3h0m.6 .8h0m2.4-3h0m1.3 3.6h0m1-1.2h0m3.3 2.3h0m3.2-1.8h0m4.6-1.6h0m23.7 3.6h0m3.9-4.9h0m3.2 1.4h0m9.7 .6h0m5.7 2.4h0m4-1.4h0m22.2-.7h0m15.6 1h0m-268.9 4.8h0m.3 .6h0m.9-1.3h0m.4-.9h0m.3 1.5h0m1.1-.7h0m121.3-2.1h0m6.6 2.4h0m1 1.1h0m1.8-.7h0m1.3 .7h0m2.2-1.6h0m7.1-1.4h0m1.2 4.6h0m.3-4.4h0m.3 .4h0m5.4-.1h0m0 1.3h0m1.9 3.5h0m1.4-4.9h0m3.2 1.3h0m0-1.1h0m5.8 2.4h0m6.2 2h0m7.2-2.3h0m.9-1.4h0m3.3-1.3h0m.3 5.1h0m8.7-3.6h0m.1-1.5h0m5.9 .6h0m-201.7 9h0m.5 .4h0m1.5-1.3h0m.3-1.6h0m1-1.7h0m134.2 4.7h0m3.1 1.2h0m5.1 0h0m0-3.3h0m3.1-2h0m3 4.9h0m2.8-2h0m1.6-1.8h0m2 3.3h0m.5-2.7h0m4.3 2.5h0m.4 .8h0m.7-.3h0m.3-.9h0m6.5-4.1h0m.3 2.5h0m.1-2.2h0m1.3 1.4h0m.8 2.6h0m5-4.5h0m9.8 2.2h0m8.8 .8h0m1.7 2.7h0m2.2-5.8h0m.9 1.5h0m2.2 3.2h0m4.9-.8h0m6.4-2.7h0m19.8 2h0m21.1-2.1h0m-261.2 10.4h0m0-.7h0m.7-.3h0m.2 .3h0m.1-1.6h0m1.1 .2h0m.2-1h0m1.5-1.3h0m.8-.8h0m135.6 2.3h0m1.1 .2h0m3.5 1.4h0m3-1.8h0m2.2-1.8h0m1.4-.7h0m.2 2.6h0m2.4 1.9h0m3.2 .2h0m4.7 .2h0m.5-2.7h0m1.5 3.5h0m2.5-.6h0m7.1-3.1h0m5.4 .8h0m4.2 .4h0m4.2-2.2h0m0-.5h0m8.2 3.9h0m3.3-1.5h0m-203.7 8.3h0m0 .7h0m1-1.7h0m1-1.8h0m1.3-.9h0m.7-1.1h0m1.6 0h0m155.9 5.1h0m1.4-4.8h0m2.4 3.4h0m4.2-.8h0m3.9 .9h0m2-3.4h0m.2 3.5h0m.3-1.7h0m5.3 1.6h0m4.5-2h0m1.4-2.1h0m2.1 4.9h0m.1-4h0m4.3 1h0m.9 0h0m2.9 1.2h0m4.6-2.4h0m.6 1.7h0m1.1-.3h0m8.9-.6h0m1.4 2.2h0m10.9-1.5h0m1.2 .5h0m77.5 1.6h0m-308.6 7h0m.4-.4h0m1.4-.8h0m.2-1h0m.7 .4h0m.2-.9h0m2-.6h0m159.6 1.2h0m1.3-.2h0m1.5-2.4h0m2.6 4.5h0m1.2-4.9h0m1.5 5.6h0m1.7-1.1h0m1.8 1h0m.7 .1h0m3.1-3.5h0m0-2.4h0m3.8 3.5h0m1.5-1.3h0m4.5-1.9h0m1.8 3.6h0m3.8-3.6h0m8.1 3.7h0m1.6-2.5h0m9.7 .3h0m1.2-.2h0m1.8 1.2h0m3.3-.5h0m12-.2h0m-236.2 8.5h0m.2-1.1h0m1-.7h0m155.1-.7h0m1.9-.1h0m1.8 .7h0m.4 2.6h0m.9 .7h0m19-5.4h0m.2 1.1h0m1.2 1.8h0m1 .3h0m.8-3.5h0m4.4 .8h0m10.2-.9h0m.1 3.3h0m7.2 1.2h0m19.8-2.2h0m73.6 .7h0m-303.5 7.4h0m.5 .7h0m1.4-2.2h0m0-1.7h0m3.1-1h0m154.6-.3h0m3.1 2.1h0m1.2 2.1h0m2.5-3.3h0m2.3-.8h0m3.5 5.7h0m.9-4h0m.1 1.3h0m10.9-3h0m1.8 4.7h0m1.1 1.1h0m2.4-2.8h0m2.7-.4h0m1.3 3h0m2.2-3.3h0m1.9-2.4h0m2.5 1.7h0m2.6 1h0m.5 1.2h0m2.1-.9h0m2.9-.1h0m7.6 .7h0m10.9 2.1h0m5.3-.5h0m4.7-1.5h0m7.4-.9h0m6.8 .7h0m11.3 .6h0m6.3-.9h0m33.2-1.6h0m-306.9 9.5h0m.2-.6h0m.4 .4h0m.7-1.9h0m.4 1h0m.7-1.9h0m0 1.2h0m1-3.4h0m.3 2.7h0m.2-2.3h0m165.8 .7h0m.2 1.1h0m4 1.6h0m4.7-3h0m.1 1.7h0m1.3 3.2h0m1.4-2.4h0m9.9-2.7h0m.5 4.7h0m.2-1.4h0m4.1 .8h0m6.8-.3h0m30.8-3.7h0m18.5-.5h0m102.6 .5h0m-359.4 10.5h0m2-2.8h0m.5 1.1h0m.5 .4h0m.8-2.6h0m175.6 .1h0m.6 .7h0m4 .1h0m.9-1.5h0m4.8 .8h0m.4 1.7h0m.2 2.3h0m1.6-1.2h0m4.6-3.5h0m1.1 4.2h0m4.6-4.6h0m5.2 4.9h0m1.3-3.2h0m13.2 1h0m6.4-2.6h0m2 4.5h0m22.2-4.4h0m39.9 .8h0m4.8 3.2h0m-301.2 5.6h0m1.7-2.3h0m.6 .5h0m185.1-2.3h0m.3 2.8h0m1 2.1h0m5.3 .5h0m.2-5.1h0m.3 2h0m5.2 1h0m1.5 2.5h0m2.8-5.6h0m4.6 5.7h0m9.5-2.6h0m1.5-3.1h0m2.3 4.7h0m.3-2.2h0m3.9-2h0m2.8 1.1h0m.4 .4h0m10.1 0h0m15.2 1.6h0m109.6-.7h0m-368.5 8.6h0m.5-1.6h0m0-1.1h0m.3 1.9h0m.5-.8h0m.5-1.5h0m1.1-1.6h0m1.3-.7h0m171 3.9h0m2.6 1h0m17.2-1.4h0m1.2-2.8h0m1.1 3.2h0m4.3 1.5h0m.1-2.2h0m.8 .2h0m.1-3.3h0m4.4 .5h0m.8 4.2h0m.6-2.6h0m5-2.2h0m1.5 2.4h0m1.7-1.1h0m.1-1.2h0m3.6 3.1h0m.9-1.2h0m2-1.4h0m4.4 4.7h0m6.4-.4h0m.6-3.5h0m6.5 0h0m2.7 2h0m34.4-.4h0m11.1-1.9h0m-287.6 5.3h0m.5 1.6h0m.5-.5h0m0 1h0m.4-.9h0m.4-.5h0m.5 .9h0m.2 1.6h0m.1-.8h0m.8 2.7h0m.3-1.9h0m168.8-1.3h0m1.4 2.6h0m1.3-.6h0m3.5-3.3h0m12.7 2.4h0m1.2-3.8h0m3.7 .5h0m.4 1.5h0m.7-.5h0m3.1 2.5h0m1.3 .1h0m1-.7h0m1.1-1.4h0m3 3.4h0m8.1-3h0m7.7 3.1h0m1.1-4h0m2.4-.1h0m2.8-1h0m.4 .5h0m-224.1 8.2h0m.1 .5h0m0-3.1h0m2 5.1h0m185.7-4.6h0m2.6-.2h0m1.8 4.2h0m1.4-1.4h0m.2 1.3h0m.9-.3h0m.4 1.3h0m3.1-.1h0m.9-4.6h0m1.9 2h0m.1-1.4h0m2.6-1.6h0m.9 5.5h0m4.3-4.2h0m4.7 1.8h0m5.1 1.7h0m1.1 .4h0m27.1 .1h0m49.7-3.6h0m-294.6 4.9h0m1.9-.2h0m.2 3.3h0m170.2 .8h0m.9 .7h0m.5-5.4h0m3.6 4.6h0m.6-1.5h0m.4-2.5h0m1.6 1.1h0m.1 3.4h0m5.2-.3h0m2-2.8h0m3.6 3.2h0m2.6-2.8h0m5.4 1.2h0m1.5-.8h0m4.8 .1h0m0 2.2h0m5.3-1.3h0m2.5-2h0m2.7 3.8h0m1.2-4.5h0m.9 1.4h0m11.2 2.4h0m.4-3.3h0m8.5-.7h0m17.3 2.3h0m73.8-1.8h0m-324.2 5.5h0m.4 .3h0m1.3 2h0m.3-1.7h0m.6 3.3h0m0-2.2h0m165.4-2.3h0m4.3 5.3h0m2.2-2.9h0m.8 .2h0m4.6 .7h0m2.5-.4h0m7.7 .6h0m3.7-1.1h0m2.2-1.1h0m.7 3h0m0 .6h0m8-.9h0m.8 .4h0m1.4-.9h0m1.7-1.2h0m10.7-1.2h0m1.2 1.7h0m1.2-.1h0m.6 1.6h0m28.8-1.2h0m42.3 1.1h0m-289.8 1.6h0m1.9 2.5h0m.2 .1h0m1.2 .6h0m.8 2.7h0m1.2-.3h0m162.7-2.8h0m4.1 1.8h0m.9 .9h0m.6-5h0m1.7-.5h0m1.8 4h0m1.2-.9h0m5.5-1.6h0m.4 4.2h0m2.5-5.6h0m4.5 1.7h0m3.6 2.3h0m9.8-3.4h0m23.4 5h0m8.5-2.5h0m-231.8 4.4h0m.8 .9h0m.3-1.2h0m.4 1.1h0m.7 3h0m.7 .2h0m.1-.9h0m164.1-3.8h0m4.3 2.9h0m2.7-1h0m3.7 3h0m.4-.2h0m2.6-3.4h0m0 2.2h0m1.4-3.5h0m.8 2.1h0m4.1 .6h0m1.5-1.8h0m4.8 0h0m1.6 .2h0m.5-1h0m2.1 1.8h0m1.4-2.2h0m2.2 2.4h0m9.7-2h0m17.6 1.7h0m33.1-.7h0m15.9 3.9h0m-273.5 2.9h0m.3-1.7h0m.6 3h0m.3-2.6h0m.5 2h0m.6 2.1h0m.1-1h0m168.2-2h0m.7-.3h0m.6 2.7h0m0-.7h0m2.4-4.4h0m5.4 3.6h0m2.1 1.7h0m2.2-4.7h0m4 4.8h0m.2-3.1h0m.1-1.6h0m1.2 4.4h0m3.9 .3h0m2-1.3h0m15.3 1.1h0m2.6-3.3h0m6.1-.7h0m.5 4.1h0m22.5-4.4h0m-239 5.6h0m.1 1.3h0m1.1 .9h0m.4 2h0m.1 1h0m1.2-1.2h0m154.3 1.2h0m2.2-2.1h0m5 .3h0m2.7 .4h0m0-.4h0m.1-1.6h0m5.7-.9h0m.2 1.3h0m.2-.6h0m2.7-1.3h0m1.3 2.7h0m6.2-1.1h0m7.2 3.1h0m6.4-.6h0m.4 .6h0m2.3-3.1h0m50.4-1h0m24.6 .6h0m19.2 2.9h0m47-1.7h0m-338.3 3.8h0m.1-.4h0m.8 1.9h0m.2-.3h0m1.3 1.4h0m.2 .4h0m153.4-.4h0m9.2-.7h0m2.1-1.2h0m.5 2.9h0m3-4.1h0m1.5 5.1h0m5.9-1.4h0m9.8-3.1h0m8.7 4.4h0m34.1-.9h0m-227.7 2h0m.4-.2h0m.6 2h0m.7 1.8h0m1.3-.2h0m.7 .1h0m138.6-.3h0m2.3 .4h0m11.4-2.6h0m1.8 1.4h0m2-1.4h0m.5 3.2h0m.8-4h0m5.4 1h0m5.7-.7h0m5.9 .7h0m.1 1h0m1.2 .6h0m.1 2h0m8-1h0m11.9-1h0m9.7-1h0m34.7 2.9h0m6.5-1.9h0m-247 3.6h0m.4 1.1h0m.1 .4h0m.4 .2h0m.1-1.3h0m.5 2.6h0m1.3-.2h0m110.8 1.9h0m.1-2.1h0m5.7 1h0m5.1 .4h0m2.6-.5h0m9.7-2.7h0m.6 1.5h0m6.1-.7h0m.2-1.6h0m1.1 3.4h0m1.4-1.1h0m4.3-.6h0m2.7-.6h0m1.4-.7h0m3.9 .8h0m.7 0h0m10.1 3.3h0m10.8-5.1h0m.8 3h0m3.2-2.7h0m3.1 1.8h0m9.4 2.3h0m13.1-3.3h0m22.4 1.8h0m34.3-.5h0m-262.7 5.1h0m.1-1.1h0m.7 1.1h0m.1 1.4h0m.9 2.3h0m.2-.4h0m.2-.3h0m107.4-3.3h0m.9 1.2h0m2.8 .8h0m.5-.9h0m2.2-1.2h0m3.5 4.2h0m.5-4.7h0m.9 4.8h0m5-.2h0m.4-.8h0m.2-3.5h0m1.7 .5h0m3-1.1h0m3.9 .2h0m.2 5h0m.4-4.4h0m1.1 1.8h0m4.2-3h0m1.3-.1h0m1.1 4.3h0m3.8 0h0m.4 0h0m5.2-3.2h0m4.6 1.5h0m.5-.5h0m4 2.2h0m3.9-1.1h0m8.1-2.4h0m3.8 .5h0m6.7 .1h0m9.7 2.2h0m17.5 1.2h0m-208.8 2.7h0m1.7 .7h0m.3 2.8h0m1.8 0h0m121.6-.3h0m1.8-4.9h0m2.4 3.5h0m2.6 1.6h0m4 .5h0m3.7-2.4h0m.3-2.8h0m3.7 4.6h0m4.8-2h0m2.1-2.9h0m.5 2.3h0m.5-2h0m4.1 .7h0m3.4 3.3h0m3 1.5h0m1.7-3.8h0m.2-1.6h0m1.9 5.3h0m2.5-1.1h0m109-3.4h0m-274.2 6.4h0m.3 .2h0m.4 2.6h0m.3-.5h0m.8-1.5h0m.3 2h0m120.4 .2h0m.2-4.5h0m2.5 4.5h0m2.5 .4h0m3-3.8h0m2.5-.7h0m5.8 4.5h0m14.9-3.5h0m12.6 4.4h0m17-.4h0m-181.8 .9h0m1.2 2.1h0m.1 .3h0m1.5 2.7h0m.1-.9h0m.8-1.5h0m102.3 .9h0m3.4-.2h0m2.3 1.4h0m3.7-.5h0m3.2 1.2h0m1.4-4.7h0m5.4 4.7h0m.5-4.4h0m.7 .9h0m2-1h0m4.5 .5h0m1-.5h0m1.5 3.7h0m1.1-4.9h0m6 .2h0m.6 2.2h0m8.4-1.6h0m5.1 4.3h0m42 .1h0m51-4h0m-246 5.3h0m.5 1.1h0m.6 2.4h0m.1-1.2h0m.1-.4h0m0 2.9h0m1.3 0h0m72.3-2.1h0m.1 .9h0m3.2-.3h0m1.4 1h0m19.8-1.9h0m1.3-.6h0m3.7 3.2h0m3.1-5.2h0m1.5 0h0m10.2 1.2h0m3 1.4h0m.6 2.3h0m.5-3.9h0m1.6-1.6h0m2.7 0h0m4.7 1.3h0m1.3 .9h0m3.4-1.6h0m5.6 1.3h0m4.1 2.8h0m3.3-1.6h0m2.4 1.1h0m7.6-.8h0m36.8-.1h0m26.5-1h0m-221.2 4.8h0m.3 .5h0m.9 1.6h0m.1 .4h0m.9 1h0m1.8 .5h0m67.4-4.3h0m.6 .8h0m2 2.8h0m3.9-3.8h0m1.5 2.3h0m.7 2.4h0m7.6 .3h0m2.1-3.7h0m3.9-1.3h0m1 2.8h0m5.2-1.2h0m1 1.5h0m1.4-3.3h0m5.5 3.1h0m5.8-2.6h0m4.6 .5h0m.8 3.1h0m.2-2.2h0m7.3 1.6h0m5.1-.8h0m1.2 .2h0m.2 2.2h0m.9-3.2h0m7.2-.1h0m4.4 1h0m1.5 1.4h0m-144.1 3.4h0m1.4 2.1h0m0-.3h0m.9 1.4h0m.1-2.3h0m.5 2.4h0m64.6-2.3h0m1.2-.9h0m3-.8h0m1.8 3.7h0m2.3-4.9h0m1.2 5h0m3.2-4.3h0m1.3 2.3h0m.9-1.8h0m1.1 .7h0m5.1-1.2h0m.8 4.4h0m.8-2.5h0m5.7 .1h0m1-1.2h0m3 3.9h0m1.1-2.5h0m.8-2.4h0m2.3-.3h0m3 2.2h0m1.5-.1h0m4.7 2.2h0m1.3 1h0m.7-2.9h0m40.7 .4h0m33-.1h0m51.3-.5h0m.1 3.4h0m-238 .3h0m1.3 3.4h0m.2-1.2h0m.3 2.7h0m.6-1.4h0m64-3.7h0m3.9 1.1h0m0 3.3h0m1.3 1.2h0m.2-3h0m5.2 .7h0m1-2h0m.5 1.4h0m.5 1.2h0m.3-.2h0m.9-.8h0m.2 .5h0m5.1-2.6h0m1.4 .4h0m0 2.3h0m3.9-2.4h0m1.1-1h0m.2 5.3h0m.4-.6h0m3.5-1.9h0m1.1-.5h0m2.3 1.4h0m7.8-3.6h0m6.6 2.1h0m3.4 .1h0m.1 1.1h0m1-2.5h0m10 1.9h0m4.4 1.7h0m23.4-2.8h0m10.2-1.6h0m8.2 2.5h0m89.1 1h0m-260.9 3.2h0m.5 2h0m.6 .6h0m.1 .4h0m.2-1.2h0m.9 1.8h0m.7 .2h0m45.4 .3h0m21.9-2h0m3.4 2.8h0m1.4-5.1h0m1.8 2.8h0m1.1 .8h0m.7 1.5h0m.7-2h0m.8-1.5h0m1.7-1.5h0m4.4 .2h0m7.4 2.5h0m.1 1.5h0m5.8-3.7h0m.7-1.2h0m9.6 2.9h0m2.5-2.4h0m9.1 4.3h0m7.3-3.1h0m2.5 1.7h0m.6 .5h0m6.3-2.6h0m8 1.8h0m3.4 2.1h0m16.7-1.1h0m39.6 .9h0m55.4-3.8h0m6.1 2.9h0m-265.3 3.5h0m0-.3h0m1.1 2.5h0m.8 1.4h0m41.8-3.6h0m.8-1h0m.6 4.7h0m1.7-5.4h0m3.4 2.8h0m.3 0h0m15.7 1.3h0m1.4-3.4h0m0 3.8h0m0 1.2h0m6.3-.2h0m0-3.3h0m.5 2.9h0m.6-3.6h0m.5 .7h0m4.9 3.6h0m2.4-4.9h0m2.4-.5h0m10.2 1.9h0m2.2 1.8h0m3.3 1h0m1.2-1.4h0m10.3-1.4h0m12 1.7h0m2.7 1.9h0m2.3-1.8h0m5.3 1.7h0m42-4.9h0m22.4 3.1h0m19.2-1.9h0m-216.4 4h0m1.1 1h0m.9 .8h0m.1 4.1h0m.1-1.2h0m42.5-.2h0m2.3-3.5h0m3.4 2.2h0m.5-2.3h0m2 4.9h0m1.6-2.2h0m.9-.7h0m1.5 .7h0m2.5 1.7h0m3.4-2.6h0m8 2.7h0m15.3-4.4h0m1.8 4.5h0m.1-3.9h0m11.1 1.8h0m2.4-.9h0m.5 .5h0m.1 1.1h0m2.1 .3h0m10.9-.6h0m4.5 1.8h0m17.4-1.7h0m7-2.4h0m8.6-.6h0m18.2-1h0m-167.8 6.8h0m.6 .7h0m1.8 3.6h0m1.3-1.7h0m32.7-.1h0m1.8-.5h0m1 1.3h0m1-.8h0m5.1-2.3h0m6.5 4.5h0m1-1h0m1.4-1.8h0m1.3 1h0m2.3 .3h0m.3-2.1h0m2.9 2.3h0m2-.1h0m1.6 1.3h0m1.1-4.3h0m3.8 .1h0m.6 3h0m1.8-2.5h0m1.7 3.6h0m2.5 .5h0m7.9-1h0m3.8-1.4h0m31-1.6h0m10.9 2.9h0m11.8 1.3h0m40.8-4.3h0m38.7-.8h0m-218.8 6.3h0m2 .8h0m.2 3h0m1-2.5h0m22.4-.4h0m.5-.2h0m1.6 .5h0m1.1 .5h0m2.8-2.6h0m3.8 4.7h0m6.4-2.6h0m.2 .7h0m.7 .8h0m2.3-.3h0m0 1.8h0m.6-2.9h0m2.3-1.4h0m1.4 .7h0m6.4 .1h0m3.6 2.3h0m.3-.4h0m.4 .9h0m2.6-3.9h0m11.3 4.8h0m5.1-.6h0m7.7-4.1h0m8.7 4.3h0m3.7-2.9h0m1.5-1.4h0m10.3 .9h0m22 1.2h0m7.5-1.4h0m16.2-.6h0m14.9 4.9h0m77.5-.5h0m-246.5 1.5h0m.7 2.8h0m.1-2h0m.3 1.8h0m.4 2.4h0m7.9 0h0m4.7-1.6h0m2.8 1.2h0m1.7-.6h0m2.3 1h0m.3-5.1h0m1.7 1.9h0m1 1.5h0m2.4-4h0m1 3.9h0m3.1-1.3h0m8.6 .5h0m11.3-3h0m.3 5.3h0m12.9-5.3h0m4 5.1h0m.6-2.5h0m3.2 1.3h0m3.6 1.4h0m.7-.4h0m3.9-1.6h0m11.1 1h0m3.8-1.3h0m15.2 1.2h0m1.3 1.2h0m106.2-5.5h0m-214.5 9.2h0m4.5 .3h0m2.2-.8h0m.3-2h0m2.2 4.6h0m6.5 .2h0m2-2.3h0m6.9 1.1h0m9.2 .7h0m1.9-1.3h0m4 1.9h0m4.9-.3h0m1.9-5.4h0m.4 2h0m3 2.6h0m.6 1.2h0m.7-1.9h0m.9-1.9h0m2.7-2h0m37 1.3h0m2.1 3.2h0m8.3-2h0m.6 .1h0m.8 2.1h0m-98.4 6.3h0m.1-3h0m2.1 .5h0m2-1.4h0m1.5 2.3h0m1.5-3.2h0m2.8 5.1h0m4.8 0h0m6.3-3h0m1.6-1.8h0m2.3-.3h0m5.6 4.5h0m9.3-1.7h0m2.7 .9h0m5.8 1.5h0m4.9 0h0m25 .3h0m2.5-3.5h0m3.2 1.1h0m.3-2.5h0m9.4 5h0m-91.6 3.8h0m2.4-1.2h0m.1-1.2h0m5.1 .4h0m1.6 .7h0m1.4 .4h0m2.1-2.5h0m1.2 3.5h0m.5-.3h0m11.4-3.2h0m.4 .6h0m3.8 4.6h0m9.2-1.6h0m8.3-2.4h0m1.8 1.9h0m14.6 .2h0m6.1 2.3h0m40.2-3.1h0m95.9-.3h0m12.7-2.5h0m65.4 3h0m13.8 .6h0m-297.9 5h0m2.6 .9h0m2.5-1.9h0m1-.7h0m5.6 1.7h0m2.3 3.3h0m4.3-1h0m6.3-2h0m.5 1h0m22.5 1.3h0m124.9-2.6h0m-171.3 4.7h0m1.7-.6h0m1.4 4.4h0m2.9-5h0m3.5 3.4h0m19.5-1.9h0m8.6 0h0m2.8-1.3h0m20.7 4.2h0m7.5 .4h0m-59.8 4.6h0m6.4-1.7h0m11.7 3h0m12.1-2.1h0m15.7 .8h0m.8-.5h0m24.5-2.2h0m68.4 2.5h0m6.7-1.6h0m-130.3 4.4h0m5.8 1.7h0m2.1 2.2h0m2.2-3.4h0m6 3.4h0m4.1-1.6h0m15.3-2.2h0m-48.7 11.5h0m2.4-4.9h0m15.3 3.1h0m31.5 .5h0m85.7-3.1h0m50.2 3.6h0m55.2-4.3h0m-237.4 7.5h0m7 .1h0m4.2 3.7h0m22.4-5.4h0m8.8 2.7h0m4.2 0h0m10.9 .6h0m184.4-1.7h0m27 2.5h0m-245.4 5.2h0m22.1 0h0m19.9-2.3h0m102.3 3h0m-140.3 3h0m28.7 1h0m9.2 1h0m83.9 2.1h0m-104.7 4h0m51.4-1.1h0m-94.5 5.9h0m.3 3.5h0m57.7-2.8h0m-31.9 8.1h0m54.4-3.5h0m186.6 .5h0m-251.7 9.7h0m12.8 1.9h0m3.3-1.1h0m205.4 1.1h0m-173.8 13.1h0m33.4 1.1h0m113 6.9h0m-193.8 1.9h0m96.4 16.6h0m96.6-4.3h0m-132.3 33.2h0" stroke-width="5.3" stroke-linecap="round"/>
</g>
<path d="M1155 193.1 1168 195.4 1181 197.8 1194 200.3 1207.1 202.8 1220.1 205.5 1233.1 208.3 1246.1 211.2 1259.1 214.2 1272.1 217.4 1285.1 220.7 1298.1 224.2 1311.2 227.8 1324.2 231.6 1337.2 235.6 1350.2 239.8 1363.2 244.2 1376.2 248.9 1389.2 253.8 1402.2 259 1415.3 264.6 1428.3 270.4 1441.3 276.6 1454.3 283.3 1467.3 290.3 1480.3 297.9 1493.3 306 1506.3 314.7 1519.4 324.1 1532.4 334.3 1536 337.3 1539.7 340.3 1543.3 343.5 1547 346.7 1550.7 350 1554.3 353.4 1558 356.8 1561.6 360.4 1565.3 364 1569 367.7 1572.6 371.6 1576.3 375.5 1579.9 379.5 1583.6 383.6 1587.2 387.9 1590.9 392.3 1594.6 396.7 1598.2 401.4 1601.9 406.1 1605.5 411 1609.2 416 1612.9 421.2 1616.5 426.6 1620.2 432.1 1623.8 437.8 1627.5 443.6 1631.1 449.7 1634.8 456 1638.5 462.4 1642.1 469.1 1645.8 476.1 1649.4 483.2 1653.1 490.7 1656.8 498.4 1660.4 506.4 1664.1 514.7 1667.7 523.3 1671.4 532.3 1675 541.6 1678.7 551.3 1682.4 561.5 1686 572 1689.7 583.1 1693.3 594.6 1697 606.7 1700.7 619.3 1704.3 632.6 1708 646.5 1711.6 661.1 1715.3 676.5 1718.9 692.8 1722.6 709.9 1726.3 727.9 1729.9 747.1 1733.6 767.4 1737.2 788.9 1740.9 811.8 1744.6 836.3 1748.2 862.4" fill="none" stroke="#7b7b7b" stroke-width="4.4"/>
<path d="M1155 197.4 1165.5 200.6 1176 204.1 1186.4 207.7 1196.9 211.4 1207.4 215.3 1217.9 219.4 1228.4 223.6 1238.9 228.1 1249.3 232.8 1259.8 237.7 1270.3 242.9 1280.8 248.3 1291.3 254 1301.8 260.1 1312.2 266.5 1322.7 273.3 1333.2 280.5 1343.7 288.1 1354.2 296.2 1364.7 304.9 1375.1 314.2 1385.6 324.1 1396.1 334.8 1406.6 346.3 1409.4 349.5 1412.3 352.9 1415.1 356.3 1418 359.8 1420.9 363.4 1423.7 367.1 1426.6 370.8 1429.4 374.6 1432.3 378.5 1435.1 382.6 1438 386.7 1440.8 390.9 1443.7 395.2 1446.6 399.6 1449.4 404.1 1452.3 408.7 1455.1 413.5 1458 418.4 1460.8 423.4 1463.7 428.5 1466.6 433.8 1469.4 439.2 1472.3 444.7 1475.1 450.5 1478 456.3 1480.8 462.4 1483.7 468.6 1486.5 475 1489.4 481.7 1492.3 488.5 1495.1 495.5 1498 502.7 1500.8 510.2 1503.7 517.9 1506.5 525.9 1509.4 534.1 1512.2 542.7 1515.1 551.5 1518 560.6 1520.8 570.1 1523.7 579.9 1526.5 590.1 1529.4 600.6 1532.2 611.6 1535.1 623 1537.9 634.9 1540.8 647.2 1543.7 660.1 1546.5 673.6 1549.4 687.6 1552.2 702.3 1555.1 717.6 1557.9 733.6 1560.8 750.5 1563.6 768.2 1566.5 786.7 1569.4 806.2 1572.2 826.8 1575.1 848.5" fill="none" stroke="#4f4f4f" stroke-width="4.7" stroke-dasharray="14.6 13.6"/>
<path d="M1604.5 409.6L1917.2 3" fill="none" stroke="#999" stroke-width="4.5"/>
<path d="M1196.9 3v8.8M1196.9 862.4v-8.8M1238.9 3v17.5M1238.9 862.4v-17.5M1280.8 3v8.8M1280.8 862.4v-8.8M1322.7 3v8.8M1322.7 862.4v-8.8M1364.7 3v8.8M1364.7 862.4v-8.8M1406.6 3v8.8M1406.6 862.4v-8.8M1448.5 3v17.5M1448.5 862.4v-17.5M1490.4 3v8.8M1490.4 862.4v-8.8M1532.4 3v8.8M1532.4 862.4v-8.8M1574.3 3v8.8M1574.3 862.4v-8.8M1616.2 3v8.8M1616.2 862.4v-8.8M1658.2 3v17.5M1658.2 862.4v-17.5M1700.1 3v8.8M1700.1 862.4v-8.8M1742 3v8.8M1742 862.4v-8.8M1783.9 3v8.8M1783.9 862.4v-8.8M1825.9 3v8.8M1825.9 862.4v-8.8M1867.8 3v17.5M1867.8 862.4v-17.5M1909.7 3v8.8M1909.7 862.4v-8.8M1951.7 3v8.8M1951.7 862.4v-8.8M1155 829.3h8.8M1993.6 829.3h-8.8M1155 796.3h17.5M1993.6 796.3h-17.5M1155 763.2h8.8M1993.6 763.2h-8.8M1155 730.2h8.8M1993.6 730.2h-8.8M1155 697.1h8.8M1993.6 697.1h-8.8M1155 664.1h8.8M1993.6 664.1h-8.8M1155 631h17.5M1993.6 631h-17.5M1155 598h8.8M1993.6 598h-8.8M1155 564.9h8.8M1993.6 564.9h-8.8M1155 531.9h8.8M1993.6 531.9h-8.8M1155 498.8h8.8M1993.6 498.8h-8.8M1155 465.8h17.5M1993.6 465.8h-17.5M1155 432.7h8.8M1993.6 432.7h-8.8M1155 399.6h8.8M1993.6 399.6h-8.8M1155 366.6h8.8M1993.6 366.6h-8.8M1155 333.5h8.8M1993.6 333.5h-8.8M1155 300.5h17.5M1993.6 300.5h-17.5M1155 267.4h8.8M1993.6 267.4h-8.8M1155 234.4h8.8M1993.6 234.4h-8.8M1155 201.3h8.8M1993.6 201.3h-8.8M1155 168.3h8.8M1993.6 168.3h-8.8M1155 135.2h17.5M1993.6 135.2h-17.5M1155 102.2h8.8M1993.6 102.2h-8.8M1155 69.1h8.8M1993.6 69.1h-8.8M1155 36.1h8.8M1993.6 36.1h-8.8" fill="none" stroke="#13201b" stroke-width="1.5"/>
<path d="M1155 862.4V3H1993.6" fill="none" stroke="#1a2a24" stroke-width="1.9" stroke-linecap="square"/>
<path d="M1155 862.4H1993.6V3" fill="none" stroke="#1a2a24" stroke-width="1.4" stroke-linecap="square"/>
<text y="898" font-size="26" font-weight="bold"><tspan x="1211.5" textLength="55.9" lengthAdjust="spacingAndGlyphs">−1.0</tspan></text>
<text y="898" font-size="26" font-weight="bold"><tspan x="1421.5" textLength="55.5" lengthAdjust="spacingAndGlyphs">−0.5</tspan></text>
<text y="898" font-size="26" font-weight="bold"><tspan x="1638.4" textLength="38.4" lengthAdjust="spacingAndGlyphs">0.0</tspan></text>
<text y="898" font-size="26" font-weight="bold"><tspan x="1848.3" textLength="37.9" lengthAdjust="spacingAndGlyphs">0.5</tspan></text>
<text y="145" font-size="26" font-weight="bold"><tspan x="1111.9" textLength="35.9" lengthAdjust="spacingAndGlyphs">1.0</tspan></text>
<text y="310.3" font-size="26" font-weight="bold"><tspan x="1109.1" textLength="38.2" lengthAdjust="spacingAndGlyphs">0.5</tspan></text>
<text y="475.6" font-size="26" font-weight="bold"><tspan x="1109.1" textLength="38.8" lengthAdjust="spacingAndGlyphs">0.0</tspan></text>
<text y="640.8" font-size="26" font-weight="bold"><tspan x="1092.1" textLength="55.5" lengthAdjust="spacingAndGlyphs">−0.5</tspan></text>
<text y="806.1" font-size="26" font-weight="bold"><tspan x="1092.1" textLength="56.0" lengthAdjust="spacingAndGlyphs">−1.0</tspan></text>
<text y="926.9" font-size="24" font-weight="bold"><tspan x="1452.5" textLength="41.8" lengthAdjust="spacingAndGlyphs">Log</tspan> <tspan x="1505.3" textLength="19.8" lengthAdjust="spacingAndGlyphs">([</tspan><tspan x="1525.4" textLength="29.3" lengthAdjust="spacingAndGlyphs">NII</tspan><tspan x="1555.6" textLength="8.0" lengthAdjust="spacingAndGlyphs">]</tspan><tspan x="1563.6" textLength="70.9" lengthAdjust="spacingAndGlyphs">λ6584</tspan><tspan x="1637.6" textLength="8.7" lengthAdjust="spacingAndGlyphs">/</tspan><tspan x="1650.6" textLength="44.1" lengthAdjust="spacingAndGlyphs">Hα)</tspan></text>
<text y="0" font-size="24" font-weight="bold" transform="translate(1071.9 556.4) rotate(-90)"><tspan x="-1.4" textLength="41.7" lengthAdjust="spacingAndGlyphs">Log</tspan> <tspan x="53.0" textLength="18.4" lengthAdjust="spacingAndGlyphs">([</tspan><tspan x="72.0" textLength="35.1" lengthAdjust="spacingAndGlyphs">OIII</tspan><tspan x="108.5" textLength="7.5" lengthAdjust="spacingAndGlyphs">]</tspan><tspan x="117.5" textLength="69.4" lengthAdjust="spacingAndGlyphs">λ5007</tspan><tspan x="191.8" textLength="8.7" lengthAdjust="spacingAndGlyphs">/</tspan><tspan x="204.9" textLength="40.7" lengthAdjust="spacingAndGlyphs">Hβ)</tspan></text>
<text y="70.3" font-size="33" stroke="#000" stroke-width="0.8"><tspan x="1476.8" textLength="55.3" lengthAdjust="spacingAndGlyphs">Sy2</tspan></text>
<text y="500.6" font-size="33" stroke="#000" stroke-width="0.8"><tspan x="1259.0" textLength="59.6" lengthAdjust="spacingAndGlyphs">SFG</tspan></text>
<text y="501" font-size="33" stroke="#000" stroke-width="0.8"><tspan x="1867.1" textLength="85.9" lengthAdjust="spacingAndGlyphs">LINER</tspan></text>
<text y="781.4" font-size="33" stroke="#000" stroke-width="0.8"><tspan x="1637.1" textLength="36.8" lengthAdjust="spacingAndGlyphs">TO</tspan></text>
</g>
<text y="998" font-size="40" class="se"><tspan x="512.3" textLength="48.7" lengthAdjust="spacingAndGlyphs">(a)</tspan></text>
<text y="998" font-size="40" class="se"><tspan x="1559.4" textLength="49.8" lengthAdjust="spacingAndGlyphs">(b)</tspan></text>
</svg></body></html>
